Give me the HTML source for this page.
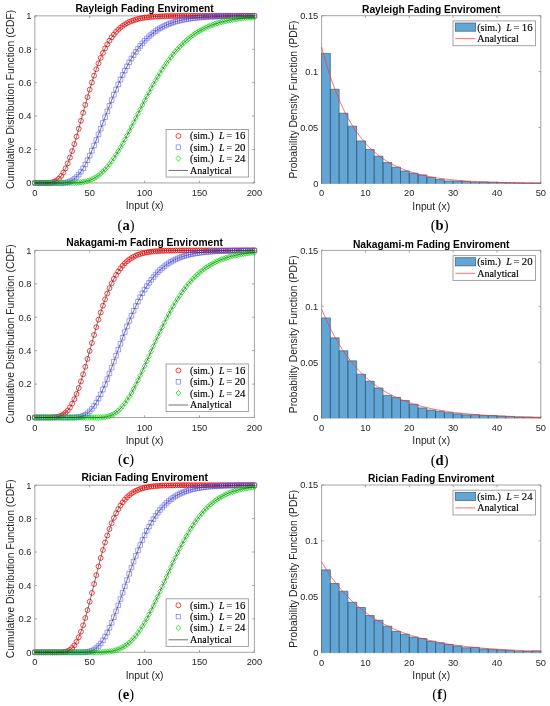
<!DOCTYPE html>
<html><head><meta charset="utf-8"><style>
html,body{margin:0;padding:0;background:#fff;}
body{width:550px;height:706px;overflow:hidden;}
svg{display:block;filter:blur(0.3px);}
</style></head><body>
<svg width="550" height="706" viewBox="0 0 550 706">
<rect width="550" height="706" fill="#fff"/>
<rect x="34.80" y="15.85" width="219.60" height="167.10" fill="#fff"/>
<path d="M34.80,15.85H254.40V182.95H34.80ZM34.80,182.95v-2.2M34.80,15.85v2.2M89.70,182.95v-2.2M89.70,15.85v2.2M144.60,182.95v-2.2M144.60,15.85v2.2M199.50,182.95v-2.2M199.50,15.85v2.2M254.40,182.95v-2.2M254.40,15.85v2.2M34.80,182.95h2.2M254.40,182.95h-2.2M34.80,149.53h2.2M254.40,149.53h-2.2M34.80,116.11h2.2M254.40,116.11h-2.2M34.80,82.69h2.2M254.40,82.69h-2.2M34.80,49.27h2.2M254.40,49.27h-2.2M34.80,15.85h2.2M254.40,15.85h-2.2" fill="none" stroke="#9a9a9a" stroke-width="0.9"/>
<path d="M32.35,182.95a2.45,2.45 0 1,0 4.9,0a2.45,2.45 0 1,0 -4.9,0M34.55,182.95a2.45,2.45 0 1,0 4.9,0a2.45,2.45 0 1,0 -4.9,0M36.74,182.95a2.45,2.45 0 1,0 4.9,0a2.45,2.45 0 1,0 -4.9,0M38.94,182.95a2.45,2.45 0 1,0 4.9,0a2.45,2.45 0 1,0 -4.9,0M41.13,182.95a2.45,2.45 0 1,0 4.9,0a2.45,2.45 0 1,0 -4.9,0M43.33,182.95a2.45,2.45 0 1,0 4.9,0a2.45,2.45 0 1,0 -4.9,0M45.53,182.95a2.45,2.45 0 1,0 4.9,0a2.45,2.45 0 1,0 -4.9,0M47.72,182.71a2.45,2.45 0 1,0 4.9,0a2.45,2.45 0 1,0 -4.9,0M49.92,182.33a2.45,2.45 0 1,0 4.9,0a2.45,2.45 0 1,0 -4.9,0M52.11,181.59a2.45,2.45 0 1,0 4.9,0a2.45,2.45 0 1,0 -4.9,0M54.31,180.37a2.45,2.45 0 1,0 4.9,0a2.45,2.45 0 1,0 -4.9,0M56.51,178.53a2.45,2.45 0 1,0 4.9,0a2.45,2.45 0 1,0 -4.9,0M58.70,175.96a2.45,2.45 0 1,0 4.9,0a2.45,2.45 0 1,0 -4.9,0M60.90,172.58a2.45,2.45 0 1,0 4.9,0a2.45,2.45 0 1,0 -4.9,0M63.09,168.38a2.45,2.45 0 1,0 4.9,0a2.45,2.45 0 1,0 -4.9,0M65.29,163.36a2.45,2.45 0 1,0 4.9,0a2.45,2.45 0 1,0 -4.9,0M67.49,157.57a2.45,2.45 0 1,0 4.9,0a2.45,2.45 0 1,0 -4.9,0M69.68,151.10a2.45,2.45 0 1,0 4.9,0a2.45,2.45 0 1,0 -4.9,0M71.88,144.07a2.45,2.45 0 1,0 4.9,0a2.45,2.45 0 1,0 -4.9,0M74.07,136.59a2.45,2.45 0 1,0 4.9,0a2.45,2.45 0 1,0 -4.9,0M76.27,128.80a2.45,2.45 0 1,0 4.9,0a2.45,2.45 0 1,0 -4.9,0M78.47,120.83a2.45,2.45 0 1,0 4.9,0a2.45,2.45 0 1,0 -4.9,0M80.66,112.82a2.45,2.45 0 1,0 4.9,0a2.45,2.45 0 1,0 -4.9,0M82.86,104.88a2.45,2.45 0 1,0 4.9,0a2.45,2.45 0 1,0 -4.9,0M85.05,97.11a2.45,2.45 0 1,0 4.9,0a2.45,2.45 0 1,0 -4.9,0M87.25,89.61a2.45,2.45 0 1,0 4.9,0a2.45,2.45 0 1,0 -4.9,0M89.45,82.43a2.45,2.45 0 1,0 4.9,0a2.45,2.45 0 1,0 -4.9,0M91.64,75.65a2.45,2.45 0 1,0 4.9,0a2.45,2.45 0 1,0 -4.9,0M93.84,69.29a2.45,2.45 0 1,0 4.9,0a2.45,2.45 0 1,0 -4.9,0M96.03,63.38a2.45,2.45 0 1,0 4.9,0a2.45,2.45 0 1,0 -4.9,0M98.23,57.93a2.45,2.45 0 1,0 4.9,0a2.45,2.45 0 1,0 -4.9,0M100.43,52.95a2.45,2.45 0 1,0 4.9,0a2.45,2.45 0 1,0 -4.9,0M102.62,48.42a2.45,2.45 0 1,0 4.9,0a2.45,2.45 0 1,0 -4.9,0M104.82,44.33a2.45,2.45 0 1,0 4.9,0a2.45,2.45 0 1,0 -4.9,0M107.01,40.65a2.45,2.45 0 1,0 4.9,0a2.45,2.45 0 1,0 -4.9,0M109.21,37.38a2.45,2.45 0 1,0 4.9,0a2.45,2.45 0 1,0 -4.9,0M111.41,34.47a2.45,2.45 0 1,0 4.9,0a2.45,2.45 0 1,0 -4.9,0M113.60,31.90a2.45,2.45 0 1,0 4.9,0a2.45,2.45 0 1,0 -4.9,0M115.80,29.64a2.45,2.45 0 1,0 4.9,0a2.45,2.45 0 1,0 -4.9,0M117.99,27.66a2.45,2.45 0 1,0 4.9,0a2.45,2.45 0 1,0 -4.9,0M120.19,25.94a2.45,2.45 0 1,0 4.9,0a2.45,2.45 0 1,0 -4.9,0M122.39,24.44a2.45,2.45 0 1,0 4.9,0a2.45,2.45 0 1,0 -4.9,0M124.58,23.15a2.45,2.45 0 1,0 4.9,0a2.45,2.45 0 1,0 -4.9,0M126.78,22.03a2.45,2.45 0 1,0 4.9,0a2.45,2.45 0 1,0 -4.9,0M128.97,21.07a2.45,2.45 0 1,0 4.9,0a2.45,2.45 0 1,0 -4.9,0M131.17,20.25a2.45,2.45 0 1,0 4.9,0a2.45,2.45 0 1,0 -4.9,0M133.37,19.55a2.45,2.45 0 1,0 4.9,0a2.45,2.45 0 1,0 -4.9,0M135.56,18.96a2.45,2.45 0 1,0 4.9,0a2.45,2.45 0 1,0 -4.9,0M137.76,18.45a2.45,2.45 0 1,0 4.9,0a2.45,2.45 0 1,0 -4.9,0M139.95,18.02a2.45,2.45 0 1,0 4.9,0a2.45,2.45 0 1,0 -4.9,0M142.15,17.66a2.45,2.45 0 1,0 4.9,0a2.45,2.45 0 1,0 -4.9,0M144.35,17.36a2.45,2.45 0 1,0 4.9,0a2.45,2.45 0 1,0 -4.9,0M146.54,17.10a2.45,2.45 0 1,0 4.9,0a2.45,2.45 0 1,0 -4.9,0M148.74,16.89a2.45,2.45 0 1,0 4.9,0a2.45,2.45 0 1,0 -4.9,0M150.93,16.71a2.45,2.45 0 1,0 4.9,0a2.45,2.45 0 1,0 -4.9,0M153.13,16.56a2.45,2.45 0 1,0 4.9,0a2.45,2.45 0 1,0 -4.9,0M155.33,16.44a2.45,2.45 0 1,0 4.9,0a2.45,2.45 0 1,0 -4.9,0M157.52,16.33a2.45,2.45 0 1,0 4.9,0a2.45,2.45 0 1,0 -4.9,0M159.72,16.25a2.45,2.45 0 1,0 4.9,0a2.45,2.45 0 1,0 -4.9,0M161.91,16.18a2.45,2.45 0 1,0 4.9,0a2.45,2.45 0 1,0 -4.9,0M164.11,16.12a2.45,2.45 0 1,0 4.9,0a2.45,2.45 0 1,0 -4.9,0M166.31,16.07a2.45,2.45 0 1,0 4.9,0a2.45,2.45 0 1,0 -4.9,0M168.50,16.03a2.45,2.45 0 1,0 4.9,0a2.45,2.45 0 1,0 -4.9,0M170.70,16.00a2.45,2.45 0 1,0 4.9,0a2.45,2.45 0 1,0 -4.9,0M172.89,15.98a2.45,2.45 0 1,0 4.9,0a2.45,2.45 0 1,0 -4.9,0M175.09,15.95a2.45,2.45 0 1,0 4.9,0a2.45,2.45 0 1,0 -4.9,0M177.29,15.85a2.45,2.45 0 1,0 4.9,0a2.45,2.45 0 1,0 -4.9,0M179.48,15.85a2.45,2.45 0 1,0 4.9,0a2.45,2.45 0 1,0 -4.9,0M181.68,15.85a2.45,2.45 0 1,0 4.9,0a2.45,2.45 0 1,0 -4.9,0M183.87,15.85a2.45,2.45 0 1,0 4.9,0a2.45,2.45 0 1,0 -4.9,0M186.07,15.85a2.45,2.45 0 1,0 4.9,0a2.45,2.45 0 1,0 -4.9,0M188.27,15.85a2.45,2.45 0 1,0 4.9,0a2.45,2.45 0 1,0 -4.9,0M190.46,15.85a2.45,2.45 0 1,0 4.9,0a2.45,2.45 0 1,0 -4.9,0M192.66,15.85a2.45,2.45 0 1,0 4.9,0a2.45,2.45 0 1,0 -4.9,0M194.85,15.85a2.45,2.45 0 1,0 4.9,0a2.45,2.45 0 1,0 -4.9,0M197.05,15.85a2.45,2.45 0 1,0 4.9,0a2.45,2.45 0 1,0 -4.9,0M199.25,15.85a2.45,2.45 0 1,0 4.9,0a2.45,2.45 0 1,0 -4.9,0M201.44,15.85a2.45,2.45 0 1,0 4.9,0a2.45,2.45 0 1,0 -4.9,0M203.64,15.85a2.45,2.45 0 1,0 4.9,0a2.45,2.45 0 1,0 -4.9,0M205.83,15.85a2.45,2.45 0 1,0 4.9,0a2.45,2.45 0 1,0 -4.9,0M208.03,15.85a2.45,2.45 0 1,0 4.9,0a2.45,2.45 0 1,0 -4.9,0M210.23,15.85a2.45,2.45 0 1,0 4.9,0a2.45,2.45 0 1,0 -4.9,0M212.42,15.85a2.45,2.45 0 1,0 4.9,0a2.45,2.45 0 1,0 -4.9,0M214.62,15.85a2.45,2.45 0 1,0 4.9,0a2.45,2.45 0 1,0 -4.9,0M216.81,15.85a2.45,2.45 0 1,0 4.9,0a2.45,2.45 0 1,0 -4.9,0M219.01,15.85a2.45,2.45 0 1,0 4.9,0a2.45,2.45 0 1,0 -4.9,0M221.21,15.85a2.45,2.45 0 1,0 4.9,0a2.45,2.45 0 1,0 -4.9,0M223.40,15.85a2.45,2.45 0 1,0 4.9,0a2.45,2.45 0 1,0 -4.9,0M225.60,15.85a2.45,2.45 0 1,0 4.9,0a2.45,2.45 0 1,0 -4.9,0M227.79,15.85a2.45,2.45 0 1,0 4.9,0a2.45,2.45 0 1,0 -4.9,0M229.99,15.85a2.45,2.45 0 1,0 4.9,0a2.45,2.45 0 1,0 -4.9,0M232.19,15.85a2.45,2.45 0 1,0 4.9,0a2.45,2.45 0 1,0 -4.9,0M234.38,15.85a2.45,2.45 0 1,0 4.9,0a2.45,2.45 0 1,0 -4.9,0M236.58,15.85a2.45,2.45 0 1,0 4.9,0a2.45,2.45 0 1,0 -4.9,0M238.77,15.85a2.45,2.45 0 1,0 4.9,0a2.45,2.45 0 1,0 -4.9,0M240.97,15.85a2.45,2.45 0 1,0 4.9,0a2.45,2.45 0 1,0 -4.9,0M243.17,15.85a2.45,2.45 0 1,0 4.9,0a2.45,2.45 0 1,0 -4.9,0M245.36,15.85a2.45,2.45 0 1,0 4.9,0a2.45,2.45 0 1,0 -4.9,0M247.56,15.85a2.45,2.45 0 1,0 4.9,0a2.45,2.45 0 1,0 -4.9,0M249.75,15.85a2.45,2.45 0 1,0 4.9,0a2.45,2.45 0 1,0 -4.9,0M251.95,15.85a2.45,2.45 0 1,0 4.9,0a2.45,2.45 0 1,0 -4.9,0" fill="none" stroke="#ff0000" stroke-width="0.75"/>
<path d="M32.50,180.65h4.6v4.6h-4.6zM34.70,180.65h4.6v4.6h-4.6zM36.89,180.65h4.6v4.6h-4.6zM39.09,180.65h4.6v4.6h-4.6zM41.28,180.65h4.6v4.6h-4.6zM43.48,180.65h4.6v4.6h-4.6zM45.68,180.65h4.6v4.6h-4.6zM47.87,180.65h4.6v4.6h-4.6zM50.07,180.65h4.6v4.6h-4.6zM52.26,180.65h4.6v4.6h-4.6zM54.46,180.65h4.6v4.6h-4.6zM56.66,180.65h4.6v4.6h-4.6zM58.85,180.65h4.6v4.6h-4.6zM61.05,180.53h4.6v4.6h-4.6zM63.24,180.32h4.6v4.6h-4.6zM65.44,179.90h4.6v4.6h-4.6zM67.64,179.19h4.6v4.6h-4.6zM69.83,178.12h4.6v4.6h-4.6zM72.03,176.64h4.6v4.6h-4.6zM74.22,174.71h4.6v4.6h-4.6zM76.42,172.30h4.6v4.6h-4.6zM78.62,169.41h4.6v4.6h-4.6zM80.81,166.04h4.6v4.6h-4.6zM83.01,162.21h4.6v4.6h-4.6zM85.20,157.97h4.6v4.6h-4.6zM87.40,153.35h4.6v4.6h-4.6zM89.60,148.40h4.6v4.6h-4.6zM91.79,143.18h4.6v4.6h-4.6zM93.99,137.74h4.6v4.6h-4.6zM96.18,132.13h4.6v4.6h-4.6zM98.38,126.42h4.6v4.6h-4.6zM100.58,120.65h4.6v4.6h-4.6zM102.77,114.87h4.6v4.6h-4.6zM104.97,109.13h4.6v4.6h-4.6zM107.16,103.46h4.6v4.6h-4.6zM109.36,97.90h4.6v4.6h-4.6zM111.56,92.48h4.6v4.6h-4.6zM113.75,87.23h4.6v4.6h-4.6zM115.95,82.16h4.6v4.6h-4.6zM118.14,77.30h4.6v4.6h-4.6zM120.34,72.64h4.6v4.6h-4.6zM122.54,68.22h4.6v4.6h-4.6zM124.73,64.02h4.6v4.6h-4.6zM126.93,60.05h4.6v4.6h-4.6zM129.12,56.31h4.6v4.6h-4.6zM131.32,52.81h4.6v4.6h-4.6zM133.52,49.52h4.6v4.6h-4.6zM135.71,46.46h4.6v4.6h-4.6zM137.91,43.61h4.6v4.6h-4.6zM140.10,40.96h4.6v4.6h-4.6zM142.30,38.51h4.6v4.6h-4.6zM144.50,36.24h4.6v4.6h-4.6zM146.69,34.16h4.6v4.6h-4.6zM148.89,32.23h4.6v4.6h-4.6zM151.08,30.47h4.6v4.6h-4.6zM153.28,28.85h4.6v4.6h-4.6zM155.48,27.37h4.6v4.6h-4.6zM157.67,26.02h4.6v4.6h-4.6zM159.87,24.79h4.6v4.6h-4.6zM162.06,23.67h4.6v4.6h-4.6zM164.26,22.65h4.6v4.6h-4.6zM166.46,21.72h4.6v4.6h-4.6zM168.65,20.88h4.6v4.6h-4.6zM170.85,20.13h4.6v4.6h-4.6zM173.04,19.44h4.6v4.6h-4.6zM175.24,18.82h4.6v4.6h-4.6zM177.44,18.26h4.6v4.6h-4.6zM179.63,17.76h4.6v4.6h-4.6zM181.83,17.31h4.6v4.6h-4.6zM184.02,16.90h4.6v4.6h-4.6zM186.22,16.54h4.6v4.6h-4.6zM188.42,16.21h4.6v4.6h-4.6zM190.61,15.92h4.6v4.6h-4.6zM192.81,15.65h4.6v4.6h-4.6zM195.00,15.42h4.6v4.6h-4.6zM197.20,15.21h4.6v4.6h-4.6zM199.40,15.02h4.6v4.6h-4.6zM201.59,14.86h4.6v4.6h-4.6zM203.79,14.71h4.6v4.6h-4.6zM205.98,14.57h4.6v4.6h-4.6zM208.18,14.46h4.6v4.6h-4.6zM210.38,14.35h4.6v4.6h-4.6zM212.57,14.26h4.6v4.6h-4.6zM214.77,14.18h4.6v4.6h-4.6zM216.96,14.10h4.6v4.6h-4.6zM219.16,14.04h4.6v4.6h-4.6zM221.36,13.98h4.6v4.6h-4.6zM223.55,13.93h4.6v4.6h-4.6zM225.75,13.88h4.6v4.6h-4.6zM227.94,13.85h4.6v4.6h-4.6zM230.14,13.81h4.6v4.6h-4.6zM232.34,13.78h4.6v4.6h-4.6zM234.53,13.75h4.6v4.6h-4.6zM236.73,13.73h4.6v4.6h-4.6zM238.92,13.71h4.6v4.6h-4.6zM241.12,13.69h4.6v4.6h-4.6zM243.32,13.68h4.6v4.6h-4.6zM245.51,13.66h4.6v4.6h-4.6zM247.71,13.65h4.6v4.6h-4.6zM249.90,13.55h4.6v4.6h-4.6zM252.10,13.55h4.6v4.6h-4.6z" fill="none" stroke="#5050ff" stroke-width="0.55"/>
<path d="M34.80,180.15l2.4,2.8l-2.4,2.8l-2.4,-2.8zM37.00,180.15l2.4,2.8l-2.4,2.8l-2.4,-2.8zM39.19,180.15l2.4,2.8l-2.4,2.8l-2.4,-2.8zM41.39,180.15l2.4,2.8l-2.4,2.8l-2.4,-2.8zM43.58,180.15l2.4,2.8l-2.4,2.8l-2.4,-2.8zM45.78,180.15l2.4,2.8l-2.4,2.8l-2.4,-2.8zM47.98,180.15l2.4,2.8l-2.4,2.8l-2.4,-2.8zM50.17,180.15l2.4,2.8l-2.4,2.8l-2.4,-2.8zM52.37,180.15l2.4,2.8l-2.4,2.8l-2.4,-2.8zM54.56,180.15l2.4,2.8l-2.4,2.8l-2.4,-2.8zM56.76,180.15l2.4,2.8l-2.4,2.8l-2.4,-2.8zM58.96,180.15l2.4,2.8l-2.4,2.8l-2.4,-2.8zM61.15,180.15l2.4,2.8l-2.4,2.8l-2.4,-2.8zM63.35,180.15l2.4,2.8l-2.4,2.8l-2.4,-2.8zM65.54,180.15l2.4,2.8l-2.4,2.8l-2.4,-2.8zM67.74,180.15l2.4,2.8l-2.4,2.8l-2.4,-2.8zM69.94,180.15l2.4,2.8l-2.4,2.8l-2.4,-2.8zM72.13,180.15l2.4,2.8l-2.4,2.8l-2.4,-2.8zM74.33,180.01l2.4,2.8l-2.4,2.8l-2.4,-2.8zM76.52,179.92l2.4,2.8l-2.4,2.8l-2.4,-2.8zM78.72,179.76l2.4,2.8l-2.4,2.8l-2.4,-2.8zM80.92,179.53l2.4,2.8l-2.4,2.8l-2.4,-2.8zM83.11,179.20l2.4,2.8l-2.4,2.8l-2.4,-2.8zM85.31,178.77l2.4,2.8l-2.4,2.8l-2.4,-2.8zM87.50,178.19l2.4,2.8l-2.4,2.8l-2.4,-2.8zM89.70,177.47l2.4,2.8l-2.4,2.8l-2.4,-2.8zM91.90,176.57l2.4,2.8l-2.4,2.8l-2.4,-2.8zM94.09,175.47l2.4,2.8l-2.4,2.8l-2.4,-2.8zM96.29,174.16l2.4,2.8l-2.4,2.8l-2.4,-2.8zM98.48,172.64l2.4,2.8l-2.4,2.8l-2.4,-2.8zM100.68,170.88l2.4,2.8l-2.4,2.8l-2.4,-2.8zM102.88,168.88l2.4,2.8l-2.4,2.8l-2.4,-2.8zM105.07,166.64l2.4,2.8l-2.4,2.8l-2.4,-2.8zM107.27,164.16l2.4,2.8l-2.4,2.8l-2.4,-2.8zM109.46,161.44l2.4,2.8l-2.4,2.8l-2.4,-2.8zM111.66,158.49l2.4,2.8l-2.4,2.8l-2.4,-2.8zM113.86,155.32l2.4,2.8l-2.4,2.8l-2.4,-2.8zM116.05,151.95l2.4,2.8l-2.4,2.8l-2.4,-2.8zM118.25,148.38l2.4,2.8l-2.4,2.8l-2.4,-2.8zM120.44,144.64l2.4,2.8l-2.4,2.8l-2.4,-2.8zM122.64,140.75l2.4,2.8l-2.4,2.8l-2.4,-2.8zM124.84,136.72l2.4,2.8l-2.4,2.8l-2.4,-2.8zM127.03,132.58l2.4,2.8l-2.4,2.8l-2.4,-2.8zM129.23,128.35l2.4,2.8l-2.4,2.8l-2.4,-2.8zM131.42,124.05l2.4,2.8l-2.4,2.8l-2.4,-2.8zM133.62,119.70l2.4,2.8l-2.4,2.8l-2.4,-2.8zM135.82,115.32l2.4,2.8l-2.4,2.8l-2.4,-2.8zM138.01,110.94l2.4,2.8l-2.4,2.8l-2.4,-2.8zM140.21,106.57l2.4,2.8l-2.4,2.8l-2.4,-2.8zM142.40,102.23l2.4,2.8l-2.4,2.8l-2.4,-2.8zM144.60,97.94l2.4,2.8l-2.4,2.8l-2.4,-2.8zM146.80,93.71l2.4,2.8l-2.4,2.8l-2.4,-2.8zM148.99,89.55l2.4,2.8l-2.4,2.8l-2.4,-2.8zM151.19,85.49l2.4,2.8l-2.4,2.8l-2.4,-2.8zM153.38,81.53l2.4,2.8l-2.4,2.8l-2.4,-2.8zM155.58,77.67l2.4,2.8l-2.4,2.8l-2.4,-2.8zM157.78,73.94l2.4,2.8l-2.4,2.8l-2.4,-2.8zM159.97,70.33l2.4,2.8l-2.4,2.8l-2.4,-2.8zM162.17,66.85l2.4,2.8l-2.4,2.8l-2.4,-2.8zM164.36,63.51l2.4,2.8l-2.4,2.8l-2.4,-2.8zM166.56,60.31l2.4,2.8l-2.4,2.8l-2.4,-2.8zM168.76,57.24l2.4,2.8l-2.4,2.8l-2.4,-2.8zM170.95,54.32l2.4,2.8l-2.4,2.8l-2.4,-2.8zM173.15,51.53l2.4,2.8l-2.4,2.8l-2.4,-2.8zM175.34,48.89l2.4,2.8l-2.4,2.8l-2.4,-2.8zM177.54,46.38l2.4,2.8l-2.4,2.8l-2.4,-2.8zM179.74,44.01l2.4,2.8l-2.4,2.8l-2.4,-2.8zM181.93,41.77l2.4,2.8l-2.4,2.8l-2.4,-2.8zM184.13,39.66l2.4,2.8l-2.4,2.8l-2.4,-2.8zM186.32,37.68l2.4,2.8l-2.4,2.8l-2.4,-2.8zM188.52,35.81l2.4,2.8l-2.4,2.8l-2.4,-2.8zM190.72,34.07l2.4,2.8l-2.4,2.8l-2.4,-2.8zM192.91,32.43l2.4,2.8l-2.4,2.8l-2.4,-2.8zM195.11,30.91l2.4,2.8l-2.4,2.8l-2.4,-2.8zM197.30,29.48l2.4,2.8l-2.4,2.8l-2.4,-2.8zM199.50,28.16l2.4,2.8l-2.4,2.8l-2.4,-2.8zM201.70,26.92l2.4,2.8l-2.4,2.8l-2.4,-2.8zM203.89,25.78l2.4,2.8l-2.4,2.8l-2.4,-2.8zM206.09,24.71l2.4,2.8l-2.4,2.8l-2.4,-2.8zM208.28,23.73l2.4,2.8l-2.4,2.8l-2.4,-2.8zM210.48,22.82l2.4,2.8l-2.4,2.8l-2.4,-2.8zM212.68,21.98l2.4,2.8l-2.4,2.8l-2.4,-2.8zM214.87,21.20l2.4,2.8l-2.4,2.8l-2.4,-2.8zM217.07,20.49l2.4,2.8l-2.4,2.8l-2.4,-2.8zM219.26,19.83l2.4,2.8l-2.4,2.8l-2.4,-2.8zM221.46,19.22l2.4,2.8l-2.4,2.8l-2.4,-2.8zM223.66,18.67l2.4,2.8l-2.4,2.8l-2.4,-2.8zM225.85,18.16l2.4,2.8l-2.4,2.8l-2.4,-2.8zM228.05,17.69l2.4,2.8l-2.4,2.8l-2.4,-2.8zM230.24,17.26l2.4,2.8l-2.4,2.8l-2.4,-2.8zM232.44,16.87l2.4,2.8l-2.4,2.8l-2.4,-2.8zM234.64,16.51l2.4,2.8l-2.4,2.8l-2.4,-2.8zM236.83,16.19l2.4,2.8l-2.4,2.8l-2.4,-2.8zM239.03,15.89l2.4,2.8l-2.4,2.8l-2.4,-2.8zM241.22,15.62l2.4,2.8l-2.4,2.8l-2.4,-2.8zM243.42,15.37l2.4,2.8l-2.4,2.8l-2.4,-2.8zM245.62,15.15l2.4,2.8l-2.4,2.8l-2.4,-2.8zM247.81,14.94l2.4,2.8l-2.4,2.8l-2.4,-2.8zM250.01,14.76l2.4,2.8l-2.4,2.8l-2.4,-2.8zM252.20,14.59l2.4,2.8l-2.4,2.8l-2.4,-2.8zM254.40,14.44l2.4,2.8l-2.4,2.8l-2.4,-2.8z" fill="none" stroke="#00e000" stroke-width="0.75"/>
<path d="M34.80,182.95L35.35,182.95L35.90,182.95L36.45,182.95L37.00,182.95L37.54,182.95L38.09,182.95L38.64,182.95L39.19,182.95L39.74,182.95L40.29,182.95L40.84,182.95L41.39,182.95L41.94,182.95L42.49,182.95L43.03,182.95L43.58,182.95L44.13,182.95L44.68,182.95L45.23,182.95L45.78,182.95L46.33,182.95L46.88,182.95L47.43,182.95L47.98,182.95L48.52,182.85L49.07,182.81L49.62,182.77L50.17,182.71L50.72,182.64L51.27,182.55L51.82,182.45L52.37,182.33L52.92,182.18L53.47,182.01L54.02,181.82L54.56,181.59L55.11,181.34L55.66,181.05L56.21,180.73L56.76,180.37L57.31,179.97L57.86,179.53L58.41,179.05L58.96,178.53L59.50,177.96L60.05,177.34L60.60,176.67L61.15,175.96L61.70,175.19L62.25,174.37L62.80,173.50L63.35,172.58L63.90,171.61L64.45,170.58L65.00,169.51L65.54,168.38L66.09,167.20L66.64,165.97L67.19,164.69L67.74,163.36L68.29,161.98L68.84,160.56L69.39,159.08L69.94,157.57L70.48,156.01L71.03,154.42L71.58,152.78L72.13,151.10L72.68,149.39L73.23,147.65L73.78,145.87L74.33,144.07L74.88,142.23L75.43,140.37L75.97,138.49L76.52,136.59L77.07,134.66L77.62,132.72L78.17,130.77L78.72,128.80L79.27,126.82L79.82,124.83L80.37,122.83L80.92,120.83L81.47,118.83L82.01,116.82L82.56,114.82L83.11,112.82L83.66,110.82L84.21,108.83L84.76,106.85L85.31,104.88L85.86,102.92L86.41,100.97L86.95,99.03L87.50,97.11L88.05,95.21L88.60,93.32L89.15,91.45L89.70,89.61L90.25,87.78L90.80,85.97L91.35,84.19L91.90,82.43L92.45,80.70L92.99,78.99L93.54,77.31L94.09,75.65L94.64,74.02L95.19,72.41L95.74,70.84L96.29,69.29L96.84,67.77L97.39,66.28L97.94,64.81L98.48,63.38L99.03,61.97L99.58,60.60L100.13,59.25L100.68,57.93L101.23,56.64L101.78,55.38L102.33,54.15L102.88,52.95L103.42,51.77L103.97,50.62L104.52,49.51L105.07,48.42L105.62,47.35L106.17,46.32L106.72,45.31L107.27,44.33L107.82,43.37L108.37,42.44L108.92,41.53L109.46,40.65L110.01,39.80L110.56,38.97L111.11,38.16L111.66,37.38L112.21,36.62L112.76,35.88L113.31,35.16L113.86,34.47L114.41,33.80L114.95,33.14L115.50,32.51L116.05,31.90L116.60,31.31L117.15,30.73L117.70,30.18L118.25,29.64L118.80,29.12L119.35,28.62L119.90,28.13L120.44,27.66L120.99,27.21L121.54,26.77L122.09,26.35L122.64,25.94L123.19,25.54L123.74,25.16L124.29,24.80L124.84,24.44L125.39,24.10L125.93,23.77L126.48,23.45L127.03,23.15L127.58,22.85L128.13,22.57L128.68,22.30L129.23,22.03L129.78,21.78L130.33,21.53L130.88,21.30L131.42,21.07L131.97,20.86L132.52,20.65L133.07,20.45L133.62,20.25L134.17,20.07L134.72,19.89L135.27,19.72L135.82,19.55L136.37,19.40L136.91,19.24L137.46,19.10L138.01,18.96L138.56,18.82L139.11,18.69L139.66,18.57L140.21,18.45L140.76,18.34L141.31,18.23L141.86,18.13L142.40,18.02L142.95,17.93L143.50,17.84L144.05,17.75L144.60,17.66L145.15,17.58L145.70,17.50L146.25,17.43L146.80,17.36L147.34,17.29L147.89,17.23L148.44,17.16L148.99,17.10L149.54,17.05L150.09,16.99L150.64,16.94L151.19,16.89L151.74,16.84L152.29,16.80L152.84,16.75L153.38,16.71L153.93,16.67L154.48,16.63L155.03,16.60L155.58,16.56L156.13,16.53L156.68,16.50L157.23,16.47L157.78,16.44L158.32,16.41L158.87,16.38L159.42,16.36L159.97,16.33L160.52,16.31L161.07,16.29L161.62,16.27L162.17,16.25L162.72,16.23L163.27,16.21L163.81,16.19L164.36,16.18L164.91,16.16L165.46,16.15L166.01,16.13L166.56,16.12L167.11,16.11L167.66,16.09L168.21,16.08L168.76,16.07L169.31,16.06L169.85,16.05L170.40,16.04L170.95,16.03L171.50,16.02L172.05,16.01L172.60,16.01L173.15,16.00L173.70,15.99L174.25,15.99L174.80,15.98L175.34,15.98L175.89,15.97L176.44,15.96L176.99,15.96L177.54,15.95L178.09,15.95L178.64,15.94L179.19,15.85L179.74,15.85L180.29,15.85L180.83,15.85L181.38,15.85L181.93,15.85L182.48,15.85L183.03,15.85L183.58,15.85L184.13,15.85L184.68,15.85L185.23,15.85L185.78,15.85L186.32,15.85L186.87,15.85L187.42,15.85L187.97,15.85L188.52,15.85L189.07,15.85L189.62,15.85L190.17,15.85L190.72,15.85L191.27,15.85L191.81,15.85L192.36,15.85L192.91,15.85L193.46,15.85L194.01,15.85L194.56,15.85L195.11,15.85L195.66,15.85L196.21,15.85L196.75,15.85L197.30,15.85L197.85,15.85L198.40,15.85L198.95,15.85L199.50,15.85L200.05,15.85L200.60,15.85L201.15,15.85L201.70,15.85L202.25,15.85L202.79,15.85L203.34,15.85L203.89,15.85L204.44,15.85L204.99,15.85L205.54,15.85L206.09,15.85L206.64,15.85L207.19,15.85L207.74,15.85L208.28,15.85L208.83,15.85L209.38,15.85L209.93,15.85L210.48,15.85L211.03,15.85L211.58,15.85L212.13,15.85L212.68,15.85L213.23,15.85L213.77,15.85L214.32,15.85L214.87,15.85L215.42,15.85L215.97,15.85L216.52,15.85L217.07,15.85L217.62,15.85L218.17,15.85L218.72,15.85L219.26,15.85L219.81,15.85L220.36,15.85L220.91,15.85L221.46,15.85L222.01,15.85L222.56,15.85L223.11,15.85L223.66,15.85L224.21,15.85L224.75,15.85L225.30,15.85L225.85,15.85L226.40,15.85L226.95,15.85L227.50,15.85L228.05,15.85L228.60,15.85L229.15,15.85L229.69,15.85L230.24,15.85L230.79,15.85L231.34,15.85L231.89,15.85L232.44,15.85L232.99,15.85L233.54,15.85L234.09,15.85L234.64,15.85L235.19,15.85L235.73,15.85L236.28,15.85L236.83,15.85L237.38,15.85L237.93,15.85L238.48,15.85L239.03,15.85L239.58,15.85L240.13,15.85L240.68,15.85L241.22,15.85L241.77,15.85L242.32,15.85L242.87,15.85L243.42,15.85L243.97,15.85L244.52,15.85L245.07,15.85L245.62,15.85L246.17,15.85L246.71,15.85L247.26,15.85L247.81,15.85L248.36,15.85L248.91,15.85L249.46,15.85L250.01,15.85L250.56,15.85L251.11,15.85L251.66,15.85L252.20,15.85L252.75,15.85L253.30,15.85L253.85,15.85L254.40,15.85" fill="none" stroke="#333" stroke-width="0.7"/>
<path d="M34.80,182.95L35.35,182.95L35.90,182.95L36.45,182.95L37.00,182.95L37.54,182.95L38.09,182.95L38.64,182.95L39.19,182.95L39.74,182.95L40.29,182.95L40.84,182.95L41.39,182.95L41.94,182.95L42.49,182.95L43.03,182.95L43.58,182.95L44.13,182.95L44.68,182.95L45.23,182.95L45.78,182.95L46.33,182.95L46.88,182.95L47.43,182.95L47.98,182.95L48.52,182.95L49.07,182.95L49.62,182.95L50.17,182.95L50.72,182.95L51.27,182.95L51.82,182.95L52.37,182.95L52.92,182.95L53.47,182.95L54.02,182.95L54.56,182.95L55.11,182.95L55.66,182.95L56.21,182.95L56.76,182.95L57.31,182.95L57.86,182.95L58.41,182.95L58.96,182.95L59.50,182.95L60.05,182.95L60.60,182.95L61.15,182.95L61.70,182.95L62.25,182.95L62.80,182.95L63.35,182.83L63.90,182.80L64.45,182.75L65.00,182.69L65.54,182.62L66.09,182.54L66.64,182.44L67.19,182.33L67.74,182.20L68.29,182.05L68.84,181.88L69.39,181.69L69.94,181.49L70.48,181.26L71.03,181.00L71.58,180.72L72.13,180.42L72.68,180.09L73.23,179.74L73.78,179.36L74.33,178.94L74.88,178.51L75.43,178.04L75.97,177.54L76.52,177.01L77.07,176.46L77.62,175.87L78.17,175.25L78.72,174.60L79.27,173.93L79.82,173.22L80.37,172.48L80.92,171.71L81.47,170.91L82.01,170.08L82.56,169.22L83.11,168.34L83.66,167.42L84.21,166.48L84.76,165.51L85.31,164.51L85.86,163.49L86.41,162.44L86.95,161.37L87.50,160.27L88.05,159.15L88.60,158.00L89.15,156.84L89.70,155.65L90.25,154.44L90.80,153.21L91.35,151.96L91.90,150.70L92.45,149.42L92.99,148.12L93.54,146.80L94.09,145.48L94.64,144.13L95.19,142.78L95.74,141.41L96.29,140.04L96.84,138.65L97.39,137.25L97.94,135.84L98.48,134.43L99.03,133.01L99.58,131.59L100.13,130.15L100.68,128.72L101.23,127.28L101.78,125.84L102.33,124.39L102.88,122.95L103.42,121.50L103.97,120.06L104.52,118.61L105.07,117.17L105.62,115.73L106.17,114.29L106.72,112.86L107.27,111.43L107.82,110.00L108.37,108.58L108.92,107.17L109.46,105.76L110.01,104.36L110.56,102.96L111.11,101.58L111.66,100.20L112.21,98.83L112.76,97.47L113.31,96.12L113.86,94.78L114.41,93.45L114.95,92.13L115.50,90.83L116.05,89.53L116.60,88.24L117.15,86.97L117.70,85.71L118.25,84.46L118.80,83.23L119.35,82.00L119.90,80.79L120.44,79.60L120.99,78.41L121.54,77.24L122.09,76.09L122.64,74.94L123.19,73.82L123.74,72.70L124.29,71.60L124.84,70.52L125.39,69.45L125.93,68.39L126.48,67.35L127.03,66.32L127.58,65.30L128.13,64.31L128.68,63.32L129.23,62.35L129.78,61.40L130.33,60.45L130.88,59.53L131.42,58.61L131.97,57.72L132.52,56.83L133.07,55.96L133.62,55.11L134.17,54.27L134.72,53.44L135.27,52.62L135.82,51.82L136.37,51.04L136.91,50.27L137.46,49.51L138.01,48.76L138.56,48.03L139.11,47.31L139.66,46.60L140.21,45.91L140.76,45.23L141.31,44.56L141.86,43.90L142.40,43.26L142.95,42.63L143.50,42.01L144.05,41.41L144.60,40.81L145.15,40.23L145.70,39.65L146.25,39.09L146.80,38.54L147.34,38.01L147.89,37.48L148.44,36.96L148.99,36.46L149.54,35.96L150.09,35.47L150.64,35.00L151.19,34.53L151.74,34.08L152.29,33.63L152.84,33.20L153.38,32.77L153.93,32.35L154.48,31.94L155.03,31.54L155.58,31.15L156.13,30.77L156.68,30.40L157.23,30.03L157.78,29.67L158.32,29.32L158.87,28.98L159.42,28.65L159.97,28.32L160.52,28.00L161.07,27.69L161.62,27.39L162.17,27.09L162.72,26.80L163.27,26.51L163.81,26.24L164.36,25.97L164.91,25.70L165.46,25.45L166.01,25.19L166.56,24.95L167.11,24.71L167.66,24.47L168.21,24.25L168.76,24.02L169.31,23.81L169.85,23.59L170.40,23.39L170.95,23.18L171.50,22.99L172.05,22.80L172.60,22.61L173.15,22.43L173.70,22.25L174.25,22.07L174.80,21.90L175.34,21.74L175.89,21.58L176.44,21.42L176.99,21.27L177.54,21.12L178.09,20.98L178.64,20.83L179.19,20.70L179.74,20.56L180.29,20.43L180.83,20.30L181.38,20.18L181.93,20.06L182.48,19.94L183.03,19.83L183.58,19.72L184.13,19.61L184.68,19.50L185.23,19.40L185.78,19.30L186.32,19.20L186.87,19.11L187.42,19.01L187.97,18.92L188.52,18.84L189.07,18.75L189.62,18.67L190.17,18.59L190.72,18.51L191.27,18.43L191.81,18.36L192.36,18.29L192.91,18.22L193.46,18.15L194.01,18.08L194.56,18.02L195.11,17.95L195.66,17.89L196.21,17.83L196.75,17.77L197.30,17.72L197.85,17.66L198.40,17.61L198.95,17.56L199.50,17.51L200.05,17.46L200.60,17.41L201.15,17.37L201.70,17.32L202.25,17.28L202.79,17.24L203.34,17.20L203.89,17.16L204.44,17.12L204.99,17.08L205.54,17.04L206.09,17.01L206.64,16.97L207.19,16.94L207.74,16.91L208.28,16.87L208.83,16.84L209.38,16.81L209.93,16.78L210.48,16.76L211.03,16.73L211.58,16.70L212.13,16.68L212.68,16.65L213.23,16.63L213.77,16.60L214.32,16.58L214.87,16.56L215.42,16.54L215.97,16.52L216.52,16.50L217.07,16.48L217.62,16.46L218.17,16.44L218.72,16.42L219.26,16.40L219.81,16.39L220.36,16.37L220.91,16.35L221.46,16.34L222.01,16.32L222.56,16.31L223.11,16.30L223.66,16.28L224.21,16.27L224.75,16.26L225.30,16.24L225.85,16.23L226.40,16.22L226.95,16.21L227.50,16.20L228.05,16.18L228.60,16.17L229.15,16.17L229.69,16.16L230.24,16.15L230.79,16.14L231.34,16.13L231.89,16.12L232.44,16.11L232.99,16.10L233.54,16.09L234.09,16.09L234.64,16.08L235.19,16.07L235.73,16.07L236.28,16.06L236.83,16.05L237.38,16.05L237.93,16.04L238.48,16.03L239.03,16.03L239.58,16.02L240.13,16.02L240.68,16.01L241.22,16.01L241.77,16.00L242.32,16.00L242.87,16.00L243.42,15.99L243.97,15.99L244.52,15.98L245.07,15.98L245.62,15.98L246.17,15.97L246.71,15.97L247.26,15.96L247.81,15.96L248.36,15.96L248.91,15.95L249.46,15.95L250.01,15.95L250.56,15.94L251.11,15.94L251.66,15.85L252.20,15.85L252.75,15.85L253.30,15.85L253.85,15.85L254.40,15.85" fill="none" stroke="#333" stroke-width="0.7"/>
<path d="M34.80,182.95L35.35,182.95L35.90,182.95L36.45,182.95L37.00,182.95L37.54,182.95L38.09,182.95L38.64,182.95L39.19,182.95L39.74,182.95L40.29,182.95L40.84,182.95L41.39,182.95L41.94,182.95L42.49,182.95L43.03,182.95L43.58,182.95L44.13,182.95L44.68,182.95L45.23,182.95L45.78,182.95L46.33,182.95L46.88,182.95L47.43,182.95L47.98,182.95L48.52,182.95L49.07,182.95L49.62,182.95L50.17,182.95L50.72,182.95L51.27,182.95L51.82,182.95L52.37,182.95L52.92,182.95L53.47,182.95L54.02,182.95L54.56,182.95L55.11,182.95L55.66,182.95L56.21,182.95L56.76,182.95L57.31,182.95L57.86,182.95L58.41,182.95L58.96,182.95L59.50,182.95L60.05,182.95L60.60,182.95L61.15,182.95L61.70,182.95L62.25,182.95L62.80,182.95L63.35,182.95L63.90,182.95L64.45,182.95L65.00,182.95L65.54,182.95L66.09,182.95L66.64,182.95L67.19,182.95L67.74,182.95L68.29,182.95L68.84,182.95L69.39,182.95L69.94,182.95L70.48,182.95L71.03,182.95L71.58,182.95L72.13,182.95L72.68,182.95L73.23,182.85L73.78,182.83L74.33,182.81L74.88,182.80L75.43,182.77L75.97,182.74L76.52,182.72L77.07,182.68L77.62,182.64L78.17,182.60L78.72,182.56L79.27,182.51L79.82,182.45L80.37,182.39L80.92,182.33L81.47,182.26L82.01,182.18L82.56,182.09L83.11,182.00L83.66,181.91L84.21,181.80L84.76,181.69L85.31,181.57L85.86,181.44L86.41,181.30L86.95,181.15L87.50,180.99L88.05,180.83L88.60,180.65L89.15,180.47L89.70,180.27L90.25,180.06L90.80,179.84L91.35,179.61L91.90,179.37L92.45,179.11L92.99,178.84L93.54,178.56L94.09,178.27L94.64,177.96L95.19,177.64L95.74,177.31L96.29,176.96L96.84,176.60L97.39,176.23L97.94,175.84L98.48,175.44L99.03,175.02L99.58,174.59L100.13,174.14L100.68,173.68L101.23,173.20L101.78,172.71L102.33,172.20L102.88,171.68L103.42,171.14L103.97,170.59L104.52,170.02L105.07,169.44L105.62,168.84L106.17,168.23L106.72,167.60L107.27,166.96L107.82,166.30L108.37,165.63L108.92,164.94L109.46,164.24L110.01,163.52L110.56,162.79L111.11,162.05L111.66,161.29L112.21,160.52L112.76,159.73L113.31,158.93L113.86,158.12L114.41,157.30L114.95,156.46L115.50,155.61L116.05,154.75L116.60,153.87L117.15,152.99L117.70,152.09L118.25,151.18L118.80,150.26L119.35,149.33L119.90,148.39L120.44,147.44L120.99,146.48L121.54,145.52L122.09,144.54L122.64,143.55L123.19,142.56L123.74,141.55L124.29,140.54L124.84,139.52L125.39,138.50L125.93,137.47L126.48,136.43L127.03,135.38L127.58,134.33L128.13,133.28L128.68,132.22L129.23,131.15L129.78,130.08L130.33,129.01L130.88,127.93L131.42,126.85L131.97,125.77L132.52,124.68L133.07,123.59L133.62,122.50L134.17,121.41L134.72,120.31L135.27,119.22L135.82,118.12L136.37,117.03L136.91,115.93L137.46,114.84L138.01,113.74L138.56,112.65L139.11,111.55L139.66,110.46L140.21,109.37L140.76,108.28L141.31,107.19L141.86,106.11L142.40,105.03L142.95,103.95L143.50,102.88L144.05,101.80L144.60,100.74L145.15,99.67L145.70,98.61L146.25,97.56L146.80,96.51L147.34,95.46L147.89,94.42L148.44,93.38L148.99,92.35L149.54,91.33L150.09,90.31L150.64,89.30L151.19,88.29L151.74,87.29L152.29,86.29L152.84,85.31L153.38,84.33L153.93,83.35L154.48,82.39L155.03,81.43L155.58,80.47L156.13,79.53L156.68,78.59L157.23,77.66L157.78,76.74L158.32,75.83L158.87,74.92L159.42,74.02L159.97,73.13L160.52,72.25L161.07,71.38L161.62,70.51L162.17,69.65L162.72,68.81L163.27,67.97L163.81,67.14L164.36,66.31L164.91,65.50L165.46,64.69L166.01,63.90L166.56,63.11L167.11,62.33L167.66,61.56L168.21,60.80L168.76,60.04L169.31,59.30L169.85,58.56L170.40,57.84L170.95,57.12L171.50,56.41L172.05,55.71L172.60,55.02L173.15,54.33L173.70,53.66L174.25,52.99L174.80,52.34L175.34,51.69L175.89,51.05L176.44,50.42L176.99,49.80L177.54,49.18L178.09,48.58L178.64,47.98L179.19,47.39L179.74,46.81L180.29,46.24L180.83,45.68L181.38,45.12L181.93,44.57L182.48,44.03L183.03,43.50L183.58,42.98L184.13,42.46L184.68,41.95L185.23,41.45L185.78,40.96L186.32,40.48L186.87,40.00L187.42,39.53L187.97,39.07L188.52,38.61L189.07,38.17L189.62,37.73L190.17,37.29L190.72,36.87L191.27,36.45L191.81,36.04L192.36,35.63L192.91,35.23L193.46,34.84L194.01,34.46L194.56,34.08L195.11,33.71L195.66,33.34L196.21,32.98L196.75,32.63L197.30,32.28L197.85,31.94L198.40,31.61L198.95,31.28L199.50,30.96L200.05,30.64L200.60,30.33L201.15,30.02L201.70,29.72L202.25,29.43L202.79,29.14L203.34,28.86L203.89,28.58L204.44,28.30L204.99,28.04L205.54,27.77L206.09,27.51L206.64,27.26L207.19,27.01L207.74,26.77L208.28,26.53L208.83,26.30L209.38,26.07L209.93,25.84L210.48,25.62L211.03,25.40L211.58,25.19L212.13,24.98L212.68,24.78L213.23,24.58L213.77,24.38L214.32,24.19L214.87,24.00L215.42,23.82L215.97,23.64L216.52,23.46L217.07,23.29L217.62,23.12L218.17,22.95L218.72,22.79L219.26,22.63L219.81,22.47L220.36,22.32L220.91,22.17L221.46,22.02L222.01,21.88L222.56,21.74L223.11,21.60L223.66,21.47L224.21,21.34L224.75,21.21L225.30,21.08L225.85,20.96L226.40,20.84L226.95,20.72L227.50,20.60L228.05,20.49L228.60,20.38L229.15,20.27L229.69,20.17L230.24,20.06L230.79,19.96L231.34,19.86L231.89,19.77L232.44,19.67L232.99,19.58L233.54,19.49L234.09,19.40L234.64,19.31L235.19,19.23L235.73,19.15L236.28,19.07L236.83,18.99L237.38,18.91L237.93,18.83L238.48,18.76L239.03,18.69L239.58,18.62L240.13,18.55L240.68,18.48L241.22,18.42L241.77,18.35L242.32,18.29L242.87,18.23L243.42,18.17L243.97,18.11L244.52,18.06L245.07,18.00L245.62,17.95L246.17,17.89L246.71,17.84L247.26,17.79L247.81,17.74L248.36,17.69L248.91,17.65L249.46,17.60L250.01,17.56L250.56,17.51L251.11,17.47L251.66,17.43L252.20,17.39L252.75,17.35L253.30,17.31L253.85,17.27L254.40,17.24" fill="none" stroke="#333" stroke-width="0.7"/>
<text x="34.80" y="195.95" font-family='"Liberation Sans", sans-serif' font-size="9.3" text-anchor="middle" font-weight="normal" font-style="normal" fill="#262626" >0</text>
<text x="89.70" y="195.95" font-family='"Liberation Sans", sans-serif' font-size="9.3" text-anchor="middle" font-weight="normal" font-style="normal" fill="#262626" >50</text>
<text x="144.60" y="195.95" font-family='"Liberation Sans", sans-serif' font-size="9.3" text-anchor="middle" font-weight="normal" font-style="normal" fill="#262626" >100</text>
<text x="199.50" y="195.95" font-family='"Liberation Sans", sans-serif' font-size="9.3" text-anchor="middle" font-weight="normal" font-style="normal" fill="#262626" >150</text>
<text x="254.40" y="195.95" font-family='"Liberation Sans", sans-serif' font-size="9.3" text-anchor="middle" font-weight="normal" font-style="normal" fill="#262626" >200</text>
<text x="31.50" y="186.25" font-family='"Liberation Sans", sans-serif' font-size="9.3" text-anchor="end" font-weight="normal" font-style="normal" fill="#262626" >0</text>
<text x="31.50" y="152.83" font-family='"Liberation Sans", sans-serif' font-size="9.3" text-anchor="end" font-weight="normal" font-style="normal" fill="#262626" >0.2</text>
<text x="31.50" y="119.41" font-family='"Liberation Sans", sans-serif' font-size="9.3" text-anchor="end" font-weight="normal" font-style="normal" fill="#262626" >0.4</text>
<text x="31.50" y="85.99" font-family='"Liberation Sans", sans-serif' font-size="9.3" text-anchor="end" font-weight="normal" font-style="normal" fill="#262626" >0.6</text>
<text x="31.50" y="52.57" font-family='"Liberation Sans", sans-serif' font-size="9.3" text-anchor="end" font-weight="normal" font-style="normal" fill="#262626" >0.8</text>
<text x="31.50" y="19.15" font-family='"Liberation Sans", sans-serif' font-size="9.3" text-anchor="end" font-weight="normal" font-style="normal" fill="#262626" >1</text>
<rect x="166.10" y="129.45" width="82.30" height="47.60" fill="#fff" stroke="#9a9a9a" stroke-width="0.9"/>
<circle cx="178.40" cy="135.95" r="2.45" fill="none" stroke="#ff0000" stroke-width="0.75"/>
<rect x="176.10" y="144.95" width="4.6" height="4.6" fill="none" stroke="#5050ff" stroke-width="0.55"/>
<path d="M178.40,155.75l2.4,2.8l-2.4,2.8l-2.4,-2.8z" fill="none" stroke="#00e000" stroke-width="0.75"/>
<path d="M168.50,170.45H188.00" stroke="#333" stroke-width="0.7"/>
<text x="190.10" y="139.35" font-family='"Liberation Serif", serif' font-size="10" fill="#000" stroke="#000" stroke-width="0.15">(sim.)<tspan x="219.10" font-style="italic">L</tspan><tspan x="226.50">=</tspan><tspan x="234.70" font-size="10.8">16</tspan></text>
<text x="190.10" y="150.65" font-family='"Liberation Serif", serif' font-size="10" fill="#000" stroke="#000" stroke-width="0.15">(sim.)<tspan x="219.10" font-style="italic">L</tspan><tspan x="226.50">=</tspan><tspan x="234.70" font-size="10.8">20</tspan></text>
<text x="190.10" y="161.95" font-family='"Liberation Serif", serif' font-size="10" fill="#000" stroke="#000" stroke-width="0.15">(sim.)<tspan x="219.10" font-style="italic">L</tspan><tspan x="226.50">=</tspan><tspan x="234.70" font-size="10.8">24</tspan></text>
<text x="190.10" y="173.85" font-family='"Liberation Serif", serif' font-size="10" fill="#000" stroke="#000" stroke-width="0.15">Analytical</text>
<text x="144.60" y="209.15" font-family='"Liberation Sans", sans-serif' font-size="10.3" text-anchor="middle" font-weight="normal" font-style="normal" fill="#262626" >Input (x)</text>
<text x="13.60" y="99.40" font-family='"Liberation Sans", sans-serif' font-size="10.3" text-anchor="middle" font-weight="normal" font-style="normal" fill="#262626" transform="rotate(-90 13.6 99.40)">Cumulative Distribution Function (CDF)</text>
<text x="144.60" y="11.55" font-family='"Liberation Sans", sans-serif' font-size="10.25" text-anchor="middle" font-weight="bold" font-style="normal" fill="#000" >Rayleigh Fading Enviroment</text>
<text x="126.00" y="229.55" font-family='"Liberation Serif", serif' font-size="14.5" text-anchor="middle" fill="#000">(<tspan font-weight="bold">a</tspan>)</text>
<rect x="321.60" y="15.70" width="219.20" height="167.70" fill="#fff"/>
<path d="M321.60,15.70H540.80V183.40H321.60ZM321.60,183.40v-2.2M321.60,15.70v2.2M365.44,183.40v-2.2M365.44,15.70v2.2M409.28,183.40v-2.2M409.28,15.70v2.2M453.12,183.40v-2.2M453.12,15.70v2.2M496.96,183.40v-2.2M496.96,15.70v2.2M540.80,183.40v-2.2M540.80,15.70v2.2M321.60,183.40h2.2M540.80,183.40h-2.2M321.60,127.50h2.2M540.80,127.50h-2.2M321.60,71.60h2.2M540.80,71.60h-2.2M321.60,15.70h2.2M540.80,15.70h-2.2" fill="none" stroke="#9a9a9a" stroke-width="0.9"/>
<path d="M321.60,183.40V53.38H330.37V183.40M330.37,183.40V89.26H339.14V183.40M339.14,183.40V113.19H347.90V183.40M347.90,183.40V126.16H356.67V183.40M356.67,183.40V140.92H365.44V183.40M365.44,183.40V149.41H374.21V183.40M374.21,183.40V156.23H382.98V183.40M382.98,183.40V162.61H391.74V183.40M391.74,183.40V167.19H400.51V183.40M400.51,183.40V170.99H409.28V183.40M409.28,183.40V173.23H418.05V183.40M418.05,183.40V174.90H426.82V183.40M426.82,183.40V177.36H435.58V183.40M435.58,183.40V179.60H444.35V183.40M444.35,183.40V180.94H453.12V183.40M453.12,183.40V181.05H461.89V183.40M461.89,183.40V181.50H470.66V183.40M470.66,183.40V182.17H479.42V183.40M479.42,183.40V182.03H488.19V183.40M488.19,183.40V182.33H496.96V183.40M496.96,183.40V182.57H505.73V183.40M505.73,183.40V182.75H514.50V183.40M514.50,183.40V182.89H523.26V183.40M523.26,183.40V183.01H532.03V183.40M532.03,183.40V183.09H540.80V183.40" fill="#63a6d6" stroke="#3a5f78" stroke-width="0.7"/>
<path d="M321.60,47.14L322.70,51.23L323.79,55.20L324.89,59.05L325.98,62.78L327.08,66.40L328.18,69.91L329.27,73.31L330.37,76.62L331.46,79.82L332.56,82.93L333.66,85.95L334.75,88.87L335.85,91.71L336.94,94.46L338.04,97.13L339.14,99.72L340.23,102.23L341.33,104.66L342.42,107.03L343.52,109.32L344.62,111.54L345.71,113.70L346.81,115.79L347.90,117.82L349.00,119.79L350.10,121.70L351.19,123.55L352.29,125.34L353.38,127.09L354.48,128.78L355.58,130.42L356.67,132.01L357.77,133.55L358.86,135.04L359.96,136.49L361.06,137.90L362.15,139.27L363.25,140.59L364.34,141.88L365.44,143.12L366.54,144.33L367.63,145.50L368.73,146.64L369.82,147.74L370.92,148.81L372.02,149.85L373.11,150.86L374.21,151.84L375.30,152.78L376.40,153.70L377.50,154.59L378.59,155.46L379.69,156.30L380.78,157.11L381.88,157.90L382.98,158.66L384.07,159.41L385.17,160.13L386.26,160.82L387.36,161.50L388.46,162.16L389.55,162.80L390.65,163.41L391.74,164.01L392.84,164.60L393.94,165.16L395.03,165.71L396.13,166.24L397.22,166.75L398.32,167.25L399.42,167.74L400.51,168.21L401.61,168.66L402.70,169.11L403.80,169.53L404.90,169.95L405.99,170.35L407.09,170.75L408.18,171.13L409.28,171.49L410.38,171.85L411.47,172.20L412.57,172.53L413.66,172.86L414.76,173.18L415.86,173.48L416.95,173.78L418.05,174.07L419.14,174.35L420.24,174.62L421.34,174.88L422.43,175.14L423.53,175.39L424.62,175.63L425.72,175.86L426.82,176.09L427.91,176.31L429.01,176.52L430.10,176.73L431.20,176.93L432.30,177.12L433.39,177.31L434.49,177.49L435.58,177.67L436.68,177.84L437.78,178.01L438.87,178.17L439.97,178.33L441.06,178.48L442.16,178.63L443.26,178.77L444.35,178.91L445.45,179.04L446.54,179.17L447.64,179.30L448.74,179.42L449.83,179.54L450.93,179.66L452.02,179.77L453.12,179.88L454.22,179.99L455.31,180.09L456.41,180.19L457.50,180.28L458.60,180.38L459.70,180.47L460.79,180.56L461.89,180.64L462.98,180.72L464.08,180.80L465.18,180.88L466.27,180.96L467.37,181.03L468.46,181.10L469.56,181.17L470.66,181.24L471.75,181.30L472.85,181.37L473.94,181.43L475.04,181.49L476.14,181.54L477.23,181.60L478.33,181.65L479.42,181.71L480.52,181.76L481.62,181.81L482.71,181.85L483.81,181.90L484.90,181.95L486.00,181.99L487.10,182.03L488.19,182.07L489.29,182.11L490.38,182.15L491.48,182.19L492.58,182.22L493.67,182.26L494.77,182.29L495.86,182.33L496.96,182.36L498.06,182.39L499.15,182.42L500.25,182.45L501.34,182.48L502.44,182.51L503.54,182.53L504.63,182.56L505.73,182.58L506.82,182.61L507.92,182.63L509.02,182.66L510.11,182.68L511.21,182.70L512.30,182.72L513.40,182.74L514.50,182.76L515.59,182.78L516.69,182.80L517.78,182.82L518.88,182.83L519.98,182.85L521.07,182.87L522.17,182.88L523.26,182.90L524.36,182.91L525.46,182.93L526.55,182.94L527.65,182.96L528.74,182.97L529.84,182.98L530.94,183.00L532.03,183.01L533.13,183.02L534.22,183.03L535.32,183.04L536.42,183.05L537.51,183.06L538.61,183.07L539.70,183.08L540.80,183.09" fill="none" stroke="#ff3030" stroke-width="0.7"/>
<text x="321.60" y="196.40" font-family='"Liberation Sans", sans-serif' font-size="9.3" text-anchor="middle" font-weight="normal" font-style="normal" fill="#262626" >0</text>
<text x="365.44" y="196.40" font-family='"Liberation Sans", sans-serif' font-size="9.3" text-anchor="middle" font-weight="normal" font-style="normal" fill="#262626" >10</text>
<text x="409.28" y="196.40" font-family='"Liberation Sans", sans-serif' font-size="9.3" text-anchor="middle" font-weight="normal" font-style="normal" fill="#262626" >20</text>
<text x="453.12" y="196.40" font-family='"Liberation Sans", sans-serif' font-size="9.3" text-anchor="middle" font-weight="normal" font-style="normal" fill="#262626" >30</text>
<text x="496.96" y="196.40" font-family='"Liberation Sans", sans-serif' font-size="9.3" text-anchor="middle" font-weight="normal" font-style="normal" fill="#262626" >40</text>
<text x="540.80" y="196.40" font-family='"Liberation Sans", sans-serif' font-size="9.3" text-anchor="middle" font-weight="normal" font-style="normal" fill="#262626" >50</text>
<text x="318.30" y="186.70" font-family='"Liberation Sans", sans-serif' font-size="9.3" text-anchor="end" font-weight="normal" font-style="normal" fill="#262626" >0</text>
<text x="318.30" y="130.80" font-family='"Liberation Sans", sans-serif' font-size="9.3" text-anchor="end" font-weight="normal" font-style="normal" fill="#262626" >0.05</text>
<text x="318.30" y="74.90" font-family='"Liberation Sans", sans-serif' font-size="9.3" text-anchor="end" font-weight="normal" font-style="normal" fill="#262626" >0.1</text>
<text x="318.30" y="19.00" font-family='"Liberation Sans", sans-serif' font-size="9.3" text-anchor="end" font-weight="normal" font-style="normal" fill="#262626" >0.15</text>
<rect x="453.00" y="20.90" width="82.50" height="24.80" fill="#fff" stroke="#9a9a9a" stroke-width="0.9"/>
<rect x="455.3" y="23.00" width="20.4" height="8.2" fill="#63a6d6" stroke="#3a5f78" stroke-width="0.7"/>
<path d="M455.3,38.60H475.3" stroke="#ff3030" stroke-width="0.7"/>
<text x="477.20" y="30.50" font-family='"Liberation Serif", serif' font-size="10" fill="#000" stroke="#000" stroke-width="0.15">(sim.)<tspan x="506.20" font-style="italic">L</tspan><tspan x="513.60">=</tspan><tspan x="521.80" font-size="10.8">16</tspan></text>
<text x="477.20" y="42.00" font-family='"Liberation Serif", serif' font-size="10" fill="#000" stroke="#000" stroke-width="0.15">Analytical</text>
<text x="431.20" y="209.60" font-family='"Liberation Sans", sans-serif' font-size="10.3" text-anchor="middle" font-weight="normal" font-style="normal" fill="#262626" >Input (x)</text>
<text x="297.00" y="99.55" font-family='"Liberation Sans", sans-serif' font-size="10.3" text-anchor="middle" font-weight="normal" font-style="normal" fill="#262626" transform="rotate(-90 297 99.55)">Probability Density Function (PDF)</text>
<text x="431.20" y="12.80" font-family='"Liberation Sans", sans-serif' font-size="10.25" text-anchor="middle" font-weight="bold" font-style="normal" fill="#000" >Rayleigh Fading Enviroment</text>
<text x="439.60" y="230.00" font-family='"Liberation Serif", serif' font-size="14.5" text-anchor="middle" fill="#000">(<tspan font-weight="bold">b</tspan>)</text>
<rect x="34.80" y="250.40" width="219.60" height="167.10" fill="#fff"/>
<path d="M34.80,250.40H254.40V417.50H34.80ZM34.80,417.50v-2.2M34.80,250.40v2.2M89.70,417.50v-2.2M89.70,250.40v2.2M144.60,417.50v-2.2M144.60,250.40v2.2M199.50,417.50v-2.2M199.50,250.40v2.2M254.40,417.50v-2.2M254.40,250.40v2.2M34.80,417.50h2.2M254.40,417.50h-2.2M34.80,384.08h2.2M254.40,384.08h-2.2M34.80,350.66h2.2M254.40,350.66h-2.2M34.80,317.24h2.2M254.40,317.24h-2.2M34.80,283.82h2.2M254.40,283.82h-2.2M34.80,250.40h2.2M254.40,250.40h-2.2" fill="none" stroke="#9a9a9a" stroke-width="0.9"/>
<path d="M32.35,417.50a2.45,2.45 0 1,0 4.9,0a2.45,2.45 0 1,0 -4.9,0M34.55,417.50a2.45,2.45 0 1,0 4.9,0a2.45,2.45 0 1,0 -4.9,0M36.74,417.50a2.45,2.45 0 1,0 4.9,0a2.45,2.45 0 1,0 -4.9,0M38.94,417.50a2.45,2.45 0 1,0 4.9,0a2.45,2.45 0 1,0 -4.9,0M41.13,417.50a2.45,2.45 0 1,0 4.9,0a2.45,2.45 0 1,0 -4.9,0M43.33,417.50a2.45,2.45 0 1,0 4.9,0a2.45,2.45 0 1,0 -4.9,0M45.53,417.50a2.45,2.45 0 1,0 4.9,0a2.45,2.45 0 1,0 -4.9,0M47.72,417.50a2.45,2.45 0 1,0 4.9,0a2.45,2.45 0 1,0 -4.9,0M49.92,417.39a2.45,2.45 0 1,0 4.9,0a2.45,2.45 0 1,0 -4.9,0M52.11,417.25a2.45,2.45 0 1,0 4.9,0a2.45,2.45 0 1,0 -4.9,0M54.31,416.96a2.45,2.45 0 1,0 4.9,0a2.45,2.45 0 1,0 -4.9,0M56.51,416.47a2.45,2.45 0 1,0 4.9,0a2.45,2.45 0 1,0 -4.9,0M58.70,415.66a2.45,2.45 0 1,0 4.9,0a2.45,2.45 0 1,0 -4.9,0M60.90,414.45a2.45,2.45 0 1,0 4.9,0a2.45,2.45 0 1,0 -4.9,0M63.09,412.73a2.45,2.45 0 1,0 4.9,0a2.45,2.45 0 1,0 -4.9,0M65.29,410.41a2.45,2.45 0 1,0 4.9,0a2.45,2.45 0 1,0 -4.9,0M67.49,407.40a2.45,2.45 0 1,0 4.9,0a2.45,2.45 0 1,0 -4.9,0M69.68,403.66a2.45,2.45 0 1,0 4.9,0a2.45,2.45 0 1,0 -4.9,0M71.88,399.17a2.45,2.45 0 1,0 4.9,0a2.45,2.45 0 1,0 -4.9,0M74.07,393.93a2.45,2.45 0 1,0 4.9,0a2.45,2.45 0 1,0 -4.9,0M76.27,387.99a2.45,2.45 0 1,0 4.9,0a2.45,2.45 0 1,0 -4.9,0M78.47,381.42a2.45,2.45 0 1,0 4.9,0a2.45,2.45 0 1,0 -4.9,0M80.66,374.32a2.45,2.45 0 1,0 4.9,0a2.45,2.45 0 1,0 -4.9,0M82.86,366.80a2.45,2.45 0 1,0 4.9,0a2.45,2.45 0 1,0 -4.9,0M85.05,358.97a2.45,2.45 0 1,0 4.9,0a2.45,2.45 0 1,0 -4.9,0M87.25,350.98a2.45,2.45 0 1,0 4.9,0a2.45,2.45 0 1,0 -4.9,0M89.45,342.94a2.45,2.45 0 1,0 4.9,0a2.45,2.45 0 1,0 -4.9,0M91.64,334.97a2.45,2.45 0 1,0 4.9,0a2.45,2.45 0 1,0 -4.9,0M93.84,327.17a2.45,2.45 0 1,0 4.9,0a2.45,2.45 0 1,0 -4.9,0M96.03,319.65a2.45,2.45 0 1,0 4.9,0a2.45,2.45 0 1,0 -4.9,0M98.23,312.47a2.45,2.45 0 1,0 4.9,0a2.45,2.45 0 1,0 -4.9,0M100.43,305.69a2.45,2.45 0 1,0 4.9,0a2.45,2.45 0 1,0 -4.9,0M102.62,299.36a2.45,2.45 0 1,0 4.9,0a2.45,2.45 0 1,0 -4.9,0M104.82,293.51a2.45,2.45 0 1,0 4.9,0a2.45,2.45 0 1,0 -4.9,0M107.01,288.15a2.45,2.45 0 1,0 4.9,0a2.45,2.45 0 1,0 -4.9,0M109.21,283.27a2.45,2.45 0 1,0 4.9,0a2.45,2.45 0 1,0 -4.9,0M111.41,278.87a2.45,2.45 0 1,0 4.9,0a2.45,2.45 0 1,0 -4.9,0M113.60,274.94a2.45,2.45 0 1,0 4.9,0a2.45,2.45 0 1,0 -4.9,0M115.80,271.45a2.45,2.45 0 1,0 4.9,0a2.45,2.45 0 1,0 -4.9,0M117.99,268.37a2.45,2.45 0 1,0 4.9,0a2.45,2.45 0 1,0 -4.9,0M120.19,265.67a2.45,2.45 0 1,0 4.9,0a2.45,2.45 0 1,0 -4.9,0M122.39,263.32a2.45,2.45 0 1,0 4.9,0a2.45,2.45 0 1,0 -4.9,0M124.58,261.28a2.45,2.45 0 1,0 4.9,0a2.45,2.45 0 1,0 -4.9,0M126.78,259.53a2.45,2.45 0 1,0 4.9,0a2.45,2.45 0 1,0 -4.9,0M128.97,258.03a2.45,2.45 0 1,0 4.9,0a2.45,2.45 0 1,0 -4.9,0M131.17,256.75a2.45,2.45 0 1,0 4.9,0a2.45,2.45 0 1,0 -4.9,0M133.37,255.67a2.45,2.45 0 1,0 4.9,0a2.45,2.45 0 1,0 -4.9,0M135.56,254.75a2.45,2.45 0 1,0 4.9,0a2.45,2.45 0 1,0 -4.9,0M137.76,253.99a2.45,2.45 0 1,0 4.9,0a2.45,2.45 0 1,0 -4.9,0M139.95,253.34a2.45,2.45 0 1,0 4.9,0a2.45,2.45 0 1,0 -4.9,0M142.15,252.81a2.45,2.45 0 1,0 4.9,0a2.45,2.45 0 1,0 -4.9,0M144.35,252.36a2.45,2.45 0 1,0 4.9,0a2.45,2.45 0 1,0 -4.9,0M146.54,252.00a2.45,2.45 0 1,0 4.9,0a2.45,2.45 0 1,0 -4.9,0M148.74,251.70a2.45,2.45 0 1,0 4.9,0a2.45,2.45 0 1,0 -4.9,0M150.93,251.45a2.45,2.45 0 1,0 4.9,0a2.45,2.45 0 1,0 -4.9,0M153.13,251.24a2.45,2.45 0 1,0 4.9,0a2.45,2.45 0 1,0 -4.9,0M155.33,251.08a2.45,2.45 0 1,0 4.9,0a2.45,2.45 0 1,0 -4.9,0M157.52,250.95a2.45,2.45 0 1,0 4.9,0a2.45,2.45 0 1,0 -4.9,0M159.72,250.84a2.45,2.45 0 1,0 4.9,0a2.45,2.45 0 1,0 -4.9,0M161.91,250.75a2.45,2.45 0 1,0 4.9,0a2.45,2.45 0 1,0 -4.9,0M164.11,250.68a2.45,2.45 0 1,0 4.9,0a2.45,2.45 0 1,0 -4.9,0M166.31,250.62a2.45,2.45 0 1,0 4.9,0a2.45,2.45 0 1,0 -4.9,0M168.50,250.58a2.45,2.45 0 1,0 4.9,0a2.45,2.45 0 1,0 -4.9,0M170.70,250.54a2.45,2.45 0 1,0 4.9,0a2.45,2.45 0 1,0 -4.9,0M172.89,250.51a2.45,2.45 0 1,0 4.9,0a2.45,2.45 0 1,0 -4.9,0M175.09,250.49a2.45,2.45 0 1,0 4.9,0a2.45,2.45 0 1,0 -4.9,0M177.29,250.40a2.45,2.45 0 1,0 4.9,0a2.45,2.45 0 1,0 -4.9,0M179.48,250.40a2.45,2.45 0 1,0 4.9,0a2.45,2.45 0 1,0 -4.9,0M181.68,250.40a2.45,2.45 0 1,0 4.9,0a2.45,2.45 0 1,0 -4.9,0M183.87,250.40a2.45,2.45 0 1,0 4.9,0a2.45,2.45 0 1,0 -4.9,0M186.07,250.40a2.45,2.45 0 1,0 4.9,0a2.45,2.45 0 1,0 -4.9,0M188.27,250.40a2.45,2.45 0 1,0 4.9,0a2.45,2.45 0 1,0 -4.9,0M190.46,250.40a2.45,2.45 0 1,0 4.9,0a2.45,2.45 0 1,0 -4.9,0M192.66,250.40a2.45,2.45 0 1,0 4.9,0a2.45,2.45 0 1,0 -4.9,0M194.85,250.40a2.45,2.45 0 1,0 4.9,0a2.45,2.45 0 1,0 -4.9,0M197.05,250.40a2.45,2.45 0 1,0 4.9,0a2.45,2.45 0 1,0 -4.9,0M199.25,250.40a2.45,2.45 0 1,0 4.9,0a2.45,2.45 0 1,0 -4.9,0M201.44,250.40a2.45,2.45 0 1,0 4.9,0a2.45,2.45 0 1,0 -4.9,0M203.64,250.40a2.45,2.45 0 1,0 4.9,0a2.45,2.45 0 1,0 -4.9,0M205.83,250.40a2.45,2.45 0 1,0 4.9,0a2.45,2.45 0 1,0 -4.9,0M208.03,250.40a2.45,2.45 0 1,0 4.9,0a2.45,2.45 0 1,0 -4.9,0M210.23,250.40a2.45,2.45 0 1,0 4.9,0a2.45,2.45 0 1,0 -4.9,0M212.42,250.40a2.45,2.45 0 1,0 4.9,0a2.45,2.45 0 1,0 -4.9,0M214.62,250.40a2.45,2.45 0 1,0 4.9,0a2.45,2.45 0 1,0 -4.9,0M216.81,250.40a2.45,2.45 0 1,0 4.9,0a2.45,2.45 0 1,0 -4.9,0M219.01,250.40a2.45,2.45 0 1,0 4.9,0a2.45,2.45 0 1,0 -4.9,0M221.21,250.40a2.45,2.45 0 1,0 4.9,0a2.45,2.45 0 1,0 -4.9,0M223.40,250.40a2.45,2.45 0 1,0 4.9,0a2.45,2.45 0 1,0 -4.9,0M225.60,250.40a2.45,2.45 0 1,0 4.9,0a2.45,2.45 0 1,0 -4.9,0M227.79,250.40a2.45,2.45 0 1,0 4.9,0a2.45,2.45 0 1,0 -4.9,0M229.99,250.40a2.45,2.45 0 1,0 4.9,0a2.45,2.45 0 1,0 -4.9,0M232.19,250.40a2.45,2.45 0 1,0 4.9,0a2.45,2.45 0 1,0 -4.9,0M234.38,250.40a2.45,2.45 0 1,0 4.9,0a2.45,2.45 0 1,0 -4.9,0M236.58,250.40a2.45,2.45 0 1,0 4.9,0a2.45,2.45 0 1,0 -4.9,0M238.77,250.40a2.45,2.45 0 1,0 4.9,0a2.45,2.45 0 1,0 -4.9,0M240.97,250.40a2.45,2.45 0 1,0 4.9,0a2.45,2.45 0 1,0 -4.9,0M243.17,250.40a2.45,2.45 0 1,0 4.9,0a2.45,2.45 0 1,0 -4.9,0M245.36,250.40a2.45,2.45 0 1,0 4.9,0a2.45,2.45 0 1,0 -4.9,0M247.56,250.40a2.45,2.45 0 1,0 4.9,0a2.45,2.45 0 1,0 -4.9,0M249.75,250.40a2.45,2.45 0 1,0 4.9,0a2.45,2.45 0 1,0 -4.9,0M251.95,250.40a2.45,2.45 0 1,0 4.9,0a2.45,2.45 0 1,0 -4.9,0" fill="none" stroke="#ff0000" stroke-width="0.75"/>
<path d="M32.50,415.20h4.6v4.6h-4.6zM34.70,415.20h4.6v4.6h-4.6zM36.89,415.20h4.6v4.6h-4.6zM39.09,415.20h4.6v4.6h-4.6zM41.28,415.20h4.6v4.6h-4.6zM43.48,415.20h4.6v4.6h-4.6zM45.68,415.20h4.6v4.6h-4.6zM47.87,415.20h4.6v4.6h-4.6zM50.07,415.20h4.6v4.6h-4.6zM52.26,415.20h4.6v4.6h-4.6zM54.46,415.20h4.6v4.6h-4.6zM56.66,415.20h4.6v4.6h-4.6zM58.85,415.20h4.6v4.6h-4.6zM61.05,415.20h4.6v4.6h-4.6zM63.24,415.20h4.6v4.6h-4.6zM65.44,415.20h4.6v4.6h-4.6zM67.64,415.20h4.6v4.6h-4.6zM69.83,415.20h4.6v4.6h-4.6zM72.03,415.20h4.6v4.6h-4.6zM74.22,415.03h4.6v4.6h-4.6zM76.42,414.77h4.6v4.6h-4.6zM78.62,414.31h4.6v4.6h-4.6zM80.81,413.57h4.6v4.6h-4.6zM83.01,412.48h4.6v4.6h-4.6zM85.20,410.99h4.6v4.6h-4.6zM87.40,409.04h4.6v4.6h-4.6zM89.60,406.60h4.6v4.6h-4.6zM91.79,403.68h4.6v4.6h-4.6zM93.99,400.25h4.6v4.6h-4.6zM96.18,396.35h4.6v4.6h-4.6zM98.38,392.01h4.6v4.6h-4.6zM100.58,387.26h4.6v4.6h-4.6zM102.77,382.16h4.6v4.6h-4.6zM104.97,376.76h4.6v4.6h-4.6zM107.16,371.13h4.6v4.6h-4.6zM109.36,365.31h4.6v4.6h-4.6zM111.56,359.37h4.6v4.6h-4.6zM113.75,353.37h4.6v4.6h-4.6zM115.95,347.37h4.6v4.6h-4.6zM118.14,341.40h4.6v4.6h-4.6zM120.34,335.51h4.6v4.6h-4.6zM122.54,329.75h4.6v4.6h-4.6zM124.73,324.14h4.6v4.6h-4.6zM126.93,318.72h4.6v4.6h-4.6zM129.12,313.51h4.6v4.6h-4.6zM131.32,308.52h4.6v4.6h-4.6zM133.52,303.78h4.6v4.6h-4.6zM135.71,299.28h4.6v4.6h-4.6zM137.91,295.03h4.6v4.6h-4.6zM140.10,291.04h4.6v4.6h-4.6zM142.30,287.31h4.6v4.6h-4.6zM144.50,283.82h4.6v4.6h-4.6zM146.69,280.58h4.6v4.6h-4.6zM148.89,277.57h4.6v4.6h-4.6zM151.08,274.79h4.6v4.6h-4.6zM153.28,272.23h4.6v4.6h-4.6zM155.48,269.88h4.6v4.6h-4.6zM157.67,267.72h4.6v4.6h-4.6zM159.87,265.75h4.6v4.6h-4.6zM162.06,263.95h4.6v4.6h-4.6zM164.26,262.32h4.6v4.6h-4.6zM166.46,260.83h4.6v4.6h-4.6zM168.65,259.48h4.6v4.6h-4.6zM170.85,258.26h4.6v4.6h-4.6zM173.04,257.16h4.6v4.6h-4.6zM175.24,256.17h4.6v4.6h-4.6zM177.44,255.28h4.6v4.6h-4.6zM179.63,254.48h4.6v4.6h-4.6zM181.83,253.76h4.6v4.6h-4.6zM184.02,253.11h4.6v4.6h-4.6zM186.22,252.54h4.6v4.6h-4.6zM188.42,252.03h4.6v4.6h-4.6zM190.61,251.57h4.6v4.6h-4.6zM192.81,251.16h4.6v4.6h-4.6zM195.00,250.80h4.6v4.6h-4.6zM197.20,250.48h4.6v4.6h-4.6zM199.40,250.19h4.6v4.6h-4.6zM201.59,249.94h4.6v4.6h-4.6zM203.79,249.72h4.6v4.6h-4.6zM205.98,249.52h4.6v4.6h-4.6zM208.18,249.34h4.6v4.6h-4.6zM210.38,249.19h4.6v4.6h-4.6zM212.57,249.05h4.6v4.6h-4.6zM214.77,248.93h4.6v4.6h-4.6zM216.96,248.83h4.6v4.6h-4.6zM219.16,248.74h4.6v4.6h-4.6zM221.36,248.66h4.6v4.6h-4.6zM223.55,248.59h4.6v4.6h-4.6zM225.75,248.52h4.6v4.6h-4.6zM227.94,248.47h4.6v4.6h-4.6zM230.14,248.42h4.6v4.6h-4.6zM232.34,248.38h4.6v4.6h-4.6zM234.53,248.34h4.6v4.6h-4.6zM236.73,248.31h4.6v4.6h-4.6zM238.92,248.29h4.6v4.6h-4.6zM241.12,248.26h4.6v4.6h-4.6zM243.32,248.24h4.6v4.6h-4.6zM245.51,248.23h4.6v4.6h-4.6zM247.71,248.21h4.6v4.6h-4.6zM249.90,248.19h4.6v4.6h-4.6zM252.10,248.10h4.6v4.6h-4.6z" fill="none" stroke="#5050ff" stroke-width="0.55"/>
<path d="M34.80,414.70l2.4,2.8l-2.4,2.8l-2.4,-2.8zM37.00,414.70l2.4,2.8l-2.4,2.8l-2.4,-2.8zM39.19,414.70l2.4,2.8l-2.4,2.8l-2.4,-2.8zM41.39,414.70l2.4,2.8l-2.4,2.8l-2.4,-2.8zM43.58,414.70l2.4,2.8l-2.4,2.8l-2.4,-2.8zM45.78,414.70l2.4,2.8l-2.4,2.8l-2.4,-2.8zM47.98,414.70l2.4,2.8l-2.4,2.8l-2.4,-2.8zM50.17,414.70l2.4,2.8l-2.4,2.8l-2.4,-2.8zM52.37,414.70l2.4,2.8l-2.4,2.8l-2.4,-2.8zM54.56,414.70l2.4,2.8l-2.4,2.8l-2.4,-2.8zM56.76,414.70l2.4,2.8l-2.4,2.8l-2.4,-2.8zM58.96,414.70l2.4,2.8l-2.4,2.8l-2.4,-2.8zM61.15,414.70l2.4,2.8l-2.4,2.8l-2.4,-2.8zM63.35,414.70l2.4,2.8l-2.4,2.8l-2.4,-2.8zM65.54,414.70l2.4,2.8l-2.4,2.8l-2.4,-2.8zM67.74,414.70l2.4,2.8l-2.4,2.8l-2.4,-2.8zM69.94,414.70l2.4,2.8l-2.4,2.8l-2.4,-2.8zM72.13,414.70l2.4,2.8l-2.4,2.8l-2.4,-2.8zM74.33,414.70l2.4,2.8l-2.4,2.8l-2.4,-2.8zM76.52,414.70l2.4,2.8l-2.4,2.8l-2.4,-2.8zM78.72,414.70l2.4,2.8l-2.4,2.8l-2.4,-2.8zM80.92,414.70l2.4,2.8l-2.4,2.8l-2.4,-2.8zM83.11,414.70l2.4,2.8l-2.4,2.8l-2.4,-2.8zM85.31,414.70l2.4,2.8l-2.4,2.8l-2.4,-2.8zM87.50,414.70l2.4,2.8l-2.4,2.8l-2.4,-2.8zM89.70,414.70l2.4,2.8l-2.4,2.8l-2.4,-2.8zM91.90,414.70l2.4,2.8l-2.4,2.8l-2.4,-2.8zM94.09,414.70l2.4,2.8l-2.4,2.8l-2.4,-2.8zM96.29,414.70l2.4,2.8l-2.4,2.8l-2.4,-2.8zM98.48,414.70l2.4,2.8l-2.4,2.8l-2.4,-2.8zM100.68,414.60l2.4,2.8l-2.4,2.8l-2.4,-2.8zM102.88,414.46l2.4,2.8l-2.4,2.8l-2.4,-2.8zM105.07,414.20l2.4,2.8l-2.4,2.8l-2.4,-2.8zM107.27,413.79l2.4,2.8l-2.4,2.8l-2.4,-2.8zM109.46,413.17l2.4,2.8l-2.4,2.8l-2.4,-2.8zM111.66,412.30l2.4,2.8l-2.4,2.8l-2.4,-2.8zM113.86,411.16l2.4,2.8l-2.4,2.8l-2.4,-2.8zM116.05,409.71l2.4,2.8l-2.4,2.8l-2.4,-2.8zM118.25,407.93l2.4,2.8l-2.4,2.8l-2.4,-2.8zM120.44,405.81l2.4,2.8l-2.4,2.8l-2.4,-2.8zM122.64,403.35l2.4,2.8l-2.4,2.8l-2.4,-2.8zM124.84,400.54l2.4,2.8l-2.4,2.8l-2.4,-2.8zM127.03,397.40l2.4,2.8l-2.4,2.8l-2.4,-2.8zM129.23,393.95l2.4,2.8l-2.4,2.8l-2.4,-2.8zM131.42,390.20l2.4,2.8l-2.4,2.8l-2.4,-2.8zM133.62,386.19l2.4,2.8l-2.4,2.8l-2.4,-2.8zM135.82,381.94l2.4,2.8l-2.4,2.8l-2.4,-2.8zM138.01,377.49l2.4,2.8l-2.4,2.8l-2.4,-2.8zM140.21,372.88l2.4,2.8l-2.4,2.8l-2.4,-2.8zM142.40,368.12l2.4,2.8l-2.4,2.8l-2.4,-2.8zM144.60,363.26l2.4,2.8l-2.4,2.8l-2.4,-2.8zM146.80,358.34l2.4,2.8l-2.4,2.8l-2.4,-2.8zM148.99,353.38l2.4,2.8l-2.4,2.8l-2.4,-2.8zM151.19,348.41l2.4,2.8l-2.4,2.8l-2.4,-2.8zM153.38,343.47l2.4,2.8l-2.4,2.8l-2.4,-2.8zM155.58,338.58l2.4,2.8l-2.4,2.8l-2.4,-2.8zM157.78,333.75l2.4,2.8l-2.4,2.8l-2.4,-2.8zM159.97,329.02l2.4,2.8l-2.4,2.8l-2.4,-2.8zM162.17,324.40l2.4,2.8l-2.4,2.8l-2.4,-2.8zM164.36,319.90l2.4,2.8l-2.4,2.8l-2.4,-2.8zM166.56,315.54l2.4,2.8l-2.4,2.8l-2.4,-2.8zM168.76,311.33l2.4,2.8l-2.4,2.8l-2.4,-2.8zM170.95,307.28l2.4,2.8l-2.4,2.8l-2.4,-2.8zM173.15,303.39l2.4,2.8l-2.4,2.8l-2.4,-2.8zM175.34,299.68l2.4,2.8l-2.4,2.8l-2.4,-2.8zM177.54,296.13l2.4,2.8l-2.4,2.8l-2.4,-2.8zM179.74,292.76l2.4,2.8l-2.4,2.8l-2.4,-2.8zM181.93,289.56l2.4,2.8l-2.4,2.8l-2.4,-2.8zM184.13,286.53l2.4,2.8l-2.4,2.8l-2.4,-2.8zM186.32,283.67l2.4,2.8l-2.4,2.8l-2.4,-2.8zM188.52,280.97l2.4,2.8l-2.4,2.8l-2.4,-2.8zM190.72,278.44l2.4,2.8l-2.4,2.8l-2.4,-2.8zM192.91,276.06l2.4,2.8l-2.4,2.8l-2.4,-2.8zM195.11,273.84l2.4,2.8l-2.4,2.8l-2.4,-2.8zM197.30,271.76l2.4,2.8l-2.4,2.8l-2.4,-2.8zM199.50,269.82l2.4,2.8l-2.4,2.8l-2.4,-2.8zM201.70,268.01l2.4,2.8l-2.4,2.8l-2.4,-2.8zM203.89,266.33l2.4,2.8l-2.4,2.8l-2.4,-2.8zM206.09,264.77l2.4,2.8l-2.4,2.8l-2.4,-2.8zM208.28,263.32l2.4,2.8l-2.4,2.8l-2.4,-2.8zM210.48,261.98l2.4,2.8l-2.4,2.8l-2.4,-2.8zM212.68,260.74l2.4,2.8l-2.4,2.8l-2.4,-2.8zM214.87,259.60l2.4,2.8l-2.4,2.8l-2.4,-2.8zM217.07,258.55l2.4,2.8l-2.4,2.8l-2.4,-2.8zM219.26,257.58l2.4,2.8l-2.4,2.8l-2.4,-2.8zM221.46,256.69l2.4,2.8l-2.4,2.8l-2.4,-2.8zM223.66,255.87l2.4,2.8l-2.4,2.8l-2.4,-2.8zM225.85,255.12l2.4,2.8l-2.4,2.8l-2.4,-2.8zM228.05,254.43l2.4,2.8l-2.4,2.8l-2.4,-2.8zM230.24,253.80l2.4,2.8l-2.4,2.8l-2.4,-2.8zM232.44,253.22l2.4,2.8l-2.4,2.8l-2.4,-2.8zM234.64,252.69l2.4,2.8l-2.4,2.8l-2.4,-2.8zM236.83,252.21l2.4,2.8l-2.4,2.8l-2.4,-2.8zM239.03,251.78l2.4,2.8l-2.4,2.8l-2.4,-2.8zM241.22,251.38l2.4,2.8l-2.4,2.8l-2.4,-2.8zM243.42,251.01l2.4,2.8l-2.4,2.8l-2.4,-2.8zM245.62,250.68l2.4,2.8l-2.4,2.8l-2.4,-2.8zM247.81,250.38l2.4,2.8l-2.4,2.8l-2.4,-2.8zM250.01,250.11l2.4,2.8l-2.4,2.8l-2.4,-2.8zM252.20,249.86l2.4,2.8l-2.4,2.8l-2.4,-2.8zM254.40,249.64l2.4,2.8l-2.4,2.8l-2.4,-2.8z" fill="none" stroke="#00e000" stroke-width="0.75"/>
<path d="M34.80,417.50L35.35,417.50L35.90,417.50L36.45,417.50L37.00,417.50L37.54,417.50L38.09,417.50L38.64,417.50L39.19,417.50L39.74,417.50L40.29,417.50L40.84,417.50L41.39,417.50L41.94,417.50L42.49,417.50L43.03,417.50L43.58,417.50L44.13,417.50L44.68,417.50L45.23,417.50L45.78,417.50L46.33,417.50L46.88,417.50L47.43,417.50L47.98,417.50L48.52,417.50L49.07,417.50L49.62,417.50L50.17,417.50L50.72,417.50L51.27,417.50L51.82,417.50L52.37,417.39L52.92,417.36L53.47,417.33L54.02,417.29L54.56,417.25L55.11,417.19L55.66,417.13L56.21,417.05L56.76,416.96L57.31,416.86L57.86,416.75L58.41,416.62L58.96,416.47L59.50,416.30L60.05,416.11L60.60,415.90L61.15,415.66L61.70,415.40L62.25,415.12L62.80,414.80L63.35,414.45L63.90,414.08L64.45,413.66L65.00,413.22L65.54,412.73L66.09,412.21L66.64,411.65L67.19,411.05L67.74,410.41L68.29,409.72L68.84,408.99L69.39,408.22L69.94,407.40L70.48,406.54L71.03,405.62L71.58,404.67L72.13,403.66L72.68,402.61L73.23,401.51L73.78,400.36L74.33,399.17L74.88,397.93L75.43,396.64L75.97,395.31L76.52,393.93L77.07,392.51L77.62,391.04L78.17,389.54L78.72,387.99L79.27,386.40L79.82,384.78L80.37,383.12L80.92,381.42L81.47,379.69L82.01,377.93L82.56,376.14L83.11,374.32L83.66,372.47L84.21,370.60L84.76,368.71L85.31,366.80L85.86,364.86L86.41,362.91L86.95,360.95L87.50,358.97L88.05,356.99L88.60,354.99L89.15,352.99L89.70,350.98L90.25,348.97L90.80,346.96L91.35,344.95L91.90,342.94L92.45,340.93L92.99,338.94L93.54,336.95L94.09,334.97L94.64,333.00L95.19,331.04L95.74,329.10L96.29,327.17L96.84,325.26L97.39,323.37L97.94,321.50L98.48,319.65L99.03,317.82L99.58,316.01L100.13,314.23L100.68,312.47L101.23,310.73L101.78,309.03L102.33,307.35L102.88,305.69L103.42,304.07L103.97,302.47L104.52,300.90L105.07,299.36L105.62,297.86L106.17,296.38L106.72,294.93L107.27,293.51L107.82,292.12L108.37,290.77L108.92,289.44L109.46,288.15L110.01,286.88L110.56,285.65L111.11,284.44L111.66,283.27L112.21,282.13L112.76,281.01L113.31,279.93L113.86,278.87L114.41,277.85L114.95,276.85L115.50,275.88L116.05,274.94L116.60,274.03L117.15,273.14L117.70,272.28L118.25,271.45L118.80,270.64L119.35,269.86L119.90,269.10L120.44,268.37L120.99,267.66L121.54,266.97L122.09,266.31L122.64,265.67L123.19,265.05L123.74,264.45L124.29,263.88L124.84,263.32L125.39,262.78L125.93,262.26L126.48,261.76L127.03,261.28L127.58,260.82L128.13,260.37L128.68,259.94L129.23,259.53L129.78,259.13L130.33,258.75L130.88,258.38L131.42,258.03L131.97,257.69L132.52,257.37L133.07,257.05L133.62,256.75L134.17,256.46L134.72,256.19L135.27,255.92L135.82,255.67L136.37,255.43L136.91,255.19L137.46,254.97L138.01,254.75L138.56,254.55L139.11,254.35L139.66,254.17L140.21,253.99L140.76,253.81L141.31,253.65L141.86,253.49L142.40,253.34L142.95,253.20L143.50,253.06L144.05,252.93L144.60,252.81L145.15,252.69L145.70,252.58L146.25,252.47L146.80,252.36L147.34,252.27L147.89,252.17L148.44,252.08L148.99,252.00L149.54,251.92L150.09,251.84L150.64,251.77L151.19,251.70L151.74,251.63L152.29,251.56L152.84,251.50L153.38,251.45L153.93,251.39L154.48,251.34L155.03,251.29L155.58,251.24L156.13,251.20L156.68,251.16L157.23,251.12L157.78,251.08L158.32,251.04L158.87,251.01L159.42,250.98L159.97,250.95L160.52,250.92L161.07,250.89L161.62,250.86L162.17,250.84L162.72,250.81L163.27,250.79L163.81,250.77L164.36,250.75L164.91,250.73L165.46,250.71L166.01,250.70L166.56,250.68L167.11,250.66L167.66,250.65L168.21,250.64L168.76,250.62L169.31,250.61L169.85,250.60L170.40,250.59L170.95,250.58L171.50,250.56L172.05,250.56L172.60,250.55L173.15,250.54L173.70,250.54L174.25,250.53L174.80,250.52L175.34,250.51L175.89,250.51L176.44,250.50L176.99,250.49L177.54,250.49L178.09,250.40L178.64,250.40L179.19,250.40L179.74,250.40L180.29,250.40L180.83,250.40L181.38,250.40L181.93,250.40L182.48,250.40L183.03,250.40L183.58,250.40L184.13,250.40L184.68,250.40L185.23,250.40L185.78,250.40L186.32,250.40L186.87,250.40L187.42,250.40L187.97,250.40L188.52,250.40L189.07,250.40L189.62,250.40L190.17,250.40L190.72,250.40L191.27,250.40L191.81,250.40L192.36,250.40L192.91,250.40L193.46,250.40L194.01,250.40L194.56,250.40L195.11,250.40L195.66,250.40L196.21,250.40L196.75,250.40L197.30,250.40L197.85,250.40L198.40,250.40L198.95,250.40L199.50,250.40L200.05,250.40L200.60,250.40L201.15,250.40L201.70,250.40L202.25,250.40L202.79,250.40L203.34,250.40L203.89,250.40L204.44,250.40L204.99,250.40L205.54,250.40L206.09,250.40L206.64,250.40L207.19,250.40L207.74,250.40L208.28,250.40L208.83,250.40L209.38,250.40L209.93,250.40L210.48,250.40L211.03,250.40L211.58,250.40L212.13,250.40L212.68,250.40L213.23,250.40L213.77,250.40L214.32,250.40L214.87,250.40L215.42,250.40L215.97,250.40L216.52,250.40L217.07,250.40L217.62,250.40L218.17,250.40L218.72,250.40L219.26,250.40L219.81,250.40L220.36,250.40L220.91,250.40L221.46,250.40L222.01,250.40L222.56,250.40L223.11,250.40L223.66,250.40L224.21,250.40L224.75,250.40L225.30,250.40L225.85,250.40L226.40,250.40L226.95,250.40L227.50,250.40L228.05,250.40L228.60,250.40L229.15,250.40L229.69,250.40L230.24,250.40L230.79,250.40L231.34,250.40L231.89,250.40L232.44,250.40L232.99,250.40L233.54,250.40L234.09,250.40L234.64,250.40L235.19,250.40L235.73,250.40L236.28,250.40L236.83,250.40L237.38,250.40L237.93,250.40L238.48,250.40L239.03,250.40L239.58,250.40L240.13,250.40L240.68,250.40L241.22,250.40L241.77,250.40L242.32,250.40L242.87,250.40L243.42,250.40L243.97,250.40L244.52,250.40L245.07,250.40L245.62,250.40L246.17,250.40L246.71,250.40L247.26,250.40L247.81,250.40L248.36,250.40L248.91,250.40L249.46,250.40L250.01,250.40L250.56,250.40L251.11,250.40L251.66,250.40L252.20,250.40L252.75,250.40L253.30,250.40L253.85,250.40L254.40,250.40" fill="none" stroke="#333" stroke-width="0.7"/>
<path d="M34.80,417.50L35.35,417.50L35.90,417.50L36.45,417.50L37.00,417.50L37.54,417.50L38.09,417.50L38.64,417.50L39.19,417.50L39.74,417.50L40.29,417.50L40.84,417.50L41.39,417.50L41.94,417.50L42.49,417.50L43.03,417.50L43.58,417.50L44.13,417.50L44.68,417.50L45.23,417.50L45.78,417.50L46.33,417.50L46.88,417.50L47.43,417.50L47.98,417.50L48.52,417.50L49.07,417.50L49.62,417.50L50.17,417.50L50.72,417.50L51.27,417.50L51.82,417.50L52.37,417.50L52.92,417.50L53.47,417.50L54.02,417.50L54.56,417.50L55.11,417.50L55.66,417.50L56.21,417.50L56.76,417.50L57.31,417.50L57.86,417.50L58.41,417.50L58.96,417.50L59.50,417.50L60.05,417.50L60.60,417.50L61.15,417.50L61.70,417.50L62.25,417.50L62.80,417.50L63.35,417.50L63.90,417.50L64.45,417.50L65.00,417.50L65.54,417.50L66.09,417.50L66.64,417.50L67.19,417.50L67.74,417.50L68.29,417.50L68.84,417.50L69.39,417.50L69.94,417.50L70.48,417.50L71.03,417.50L71.58,417.50L72.13,417.50L72.68,417.50L73.23,417.50L73.78,417.50L74.33,417.50L74.88,417.50L75.43,417.40L75.97,417.36L76.52,417.33L77.07,417.28L77.62,417.22L78.17,417.15L78.72,417.07L79.27,416.98L79.82,416.87L80.37,416.75L80.92,416.61L81.47,416.45L82.01,416.28L82.56,416.08L83.11,415.87L83.66,415.63L84.21,415.37L84.76,415.09L85.31,414.78L85.86,414.45L86.41,414.09L86.95,413.70L87.50,413.29L88.05,412.84L88.60,412.37L89.15,411.87L89.70,411.34L90.25,410.77L90.80,410.18L91.35,409.56L91.90,408.90L92.45,408.22L92.99,407.50L93.54,406.75L94.09,405.98L94.64,405.17L95.19,404.32L95.74,403.45L96.29,402.55L96.84,401.62L97.39,400.66L97.94,399.67L98.48,398.65L99.03,397.61L99.58,396.53L100.13,395.44L100.68,394.31L101.23,393.16L101.78,391.98L102.33,390.78L102.88,389.56L103.42,388.32L103.97,387.05L104.52,385.77L105.07,384.46L105.62,383.14L106.17,381.80L106.72,380.44L107.27,379.06L107.82,377.68L108.37,376.27L108.92,374.86L109.46,373.43L110.01,371.99L110.56,370.54L111.11,369.08L111.66,367.61L112.21,366.14L112.76,364.65L113.31,363.17L113.86,361.67L114.41,360.18L114.95,358.68L115.50,357.18L116.05,355.67L116.60,354.17L117.15,352.67L117.70,351.17L118.25,349.67L118.80,348.17L119.35,346.67L119.90,345.18L120.44,343.70L120.99,342.21L121.54,340.74L122.09,339.27L122.64,337.81L123.19,336.36L123.74,334.91L124.29,333.48L124.84,332.05L125.39,330.63L125.93,329.22L126.48,327.83L127.03,326.44L127.58,325.07L128.13,323.71L128.68,322.36L129.23,321.02L129.78,319.70L130.33,318.39L130.88,317.09L131.42,315.81L131.97,314.54L132.52,313.29L133.07,312.05L133.62,310.82L134.17,309.61L134.72,308.42L135.27,307.24L135.82,306.08L136.37,304.93L136.91,303.80L137.46,302.68L138.01,301.58L138.56,300.49L139.11,299.42L139.66,298.37L140.21,297.33L140.76,296.31L141.31,295.31L141.86,294.32L142.40,293.34L142.95,292.38L143.50,291.44L144.05,290.52L144.60,289.61L145.15,288.71L145.70,287.83L146.25,286.97L146.80,286.12L147.34,285.29L147.89,284.47L148.44,283.66L148.99,282.88L149.54,282.10L150.09,281.34L150.64,280.60L151.19,279.87L151.74,279.16L152.29,278.45L152.84,277.77L153.38,277.09L153.93,276.43L154.48,275.79L155.03,275.15L155.58,274.53L156.13,273.93L156.68,273.33L157.23,272.75L157.78,272.18L158.32,271.62L158.87,271.08L159.42,270.55L159.97,270.02L160.52,269.51L161.07,269.02L161.62,268.53L162.17,268.05L162.72,267.59L163.27,267.13L163.81,266.69L164.36,266.25L164.91,265.83L165.46,265.42L166.01,265.01L166.56,264.62L167.11,264.23L167.66,263.85L168.21,263.49L168.76,263.13L169.31,262.78L169.85,262.44L170.40,262.11L170.95,261.78L171.50,261.47L172.05,261.16L172.60,260.86L173.15,260.56L173.70,260.28L174.25,260.00L174.80,259.73L175.34,259.46L175.89,259.20L176.44,258.95L176.99,258.71L177.54,258.47L178.09,258.24L178.64,258.01L179.19,257.79L179.74,257.58L180.29,257.37L180.83,257.17L181.38,256.97L181.93,256.78L182.48,256.59L183.03,256.41L183.58,256.23L184.13,256.06L184.68,255.89L185.23,255.73L185.78,255.57L186.32,255.41L186.87,255.26L187.42,255.12L187.97,254.98L188.52,254.84L189.07,254.71L189.62,254.58L190.17,254.45L190.72,254.33L191.27,254.21L191.81,254.09L192.36,253.98L192.91,253.87L193.46,253.76L194.01,253.66L194.56,253.56L195.11,253.46L195.66,253.37L196.21,253.27L196.75,253.19L197.30,253.10L197.85,253.01L198.40,252.93L198.95,252.85L199.50,252.78L200.05,252.70L200.60,252.63L201.15,252.56L201.70,252.49L202.25,252.43L202.79,252.36L203.34,252.30L203.89,252.24L204.44,252.18L204.99,252.12L205.54,252.07L206.09,252.02L206.64,251.96L207.19,251.91L207.74,251.87L208.28,251.82L208.83,251.77L209.38,251.73L209.93,251.69L210.48,251.64L211.03,251.60L211.58,251.56L212.13,251.53L212.68,251.49L213.23,251.45L213.77,251.42L214.32,251.39L214.87,251.35L215.42,251.32L215.97,251.29L216.52,251.26L217.07,251.23L217.62,251.21L218.17,251.18L218.72,251.15L219.26,251.13L219.81,251.11L220.36,251.08L220.91,251.06L221.46,251.04L222.01,251.02L222.56,251.00L223.11,250.98L223.66,250.96L224.21,250.94L224.75,250.92L225.30,250.90L225.85,250.89L226.40,250.87L226.95,250.85L227.50,250.84L228.05,250.82L228.60,250.81L229.15,250.80L229.69,250.78L230.24,250.77L230.79,250.76L231.34,250.74L231.89,250.73L232.44,250.72L232.99,250.71L233.54,250.70L234.09,250.69L234.64,250.68L235.19,250.67L235.73,250.66L236.28,250.65L236.83,250.64L237.38,250.64L237.93,250.63L238.48,250.62L239.03,250.61L239.58,250.61L240.13,250.60L240.68,250.59L241.22,250.59L241.77,250.58L242.32,250.57L242.87,250.57L243.42,250.56L243.97,250.56L244.52,250.55L245.07,250.55L245.62,250.54L246.17,250.54L246.71,250.54L247.26,250.53L247.81,250.53L248.36,250.52L248.91,250.52L249.46,250.51L250.01,250.51L250.56,250.50L251.11,250.50L251.66,250.50L252.20,250.49L252.75,250.49L253.30,250.40L253.85,250.40L254.40,250.40" fill="none" stroke="#333" stroke-width="0.7"/>
<path d="M34.80,417.50L35.35,417.50L35.90,417.50L36.45,417.50L37.00,417.50L37.54,417.50L38.09,417.50L38.64,417.50L39.19,417.50L39.74,417.50L40.29,417.50L40.84,417.50L41.39,417.50L41.94,417.50L42.49,417.50L43.03,417.50L43.58,417.50L44.13,417.50L44.68,417.50L45.23,417.50L45.78,417.50L46.33,417.50L46.88,417.50L47.43,417.50L47.98,417.50L48.52,417.50L49.07,417.50L49.62,417.50L50.17,417.50L50.72,417.50L51.27,417.50L51.82,417.50L52.37,417.50L52.92,417.50L53.47,417.50L54.02,417.50L54.56,417.50L55.11,417.50L55.66,417.50L56.21,417.50L56.76,417.50L57.31,417.50L57.86,417.50L58.41,417.50L58.96,417.50L59.50,417.50L60.05,417.50L60.60,417.50L61.15,417.50L61.70,417.50L62.25,417.50L62.80,417.50L63.35,417.50L63.90,417.50L64.45,417.50L65.00,417.50L65.54,417.50L66.09,417.50L66.64,417.50L67.19,417.50L67.74,417.50L68.29,417.50L68.84,417.50L69.39,417.50L69.94,417.50L70.48,417.50L71.03,417.50L71.58,417.50L72.13,417.50L72.68,417.50L73.23,417.50L73.78,417.50L74.33,417.50L74.88,417.50L75.43,417.50L75.97,417.50L76.52,417.50L77.07,417.50L77.62,417.50L78.17,417.50L78.72,417.50L79.27,417.50L79.82,417.50L80.37,417.50L80.92,417.50L81.47,417.50L82.01,417.50L82.56,417.50L83.11,417.50L83.66,417.50L84.21,417.50L84.76,417.50L85.31,417.50L85.86,417.50L86.41,417.50L86.95,417.50L87.50,417.50L88.05,417.50L88.60,417.50L89.15,417.50L89.70,417.50L90.25,417.50L90.80,417.50L91.35,417.50L91.90,417.50L92.45,417.50L92.99,417.50L93.54,417.50L94.09,417.50L94.64,417.50L95.19,417.50L95.74,417.50L96.29,417.50L96.84,417.50L97.39,417.50L97.94,417.50L98.48,417.50L99.03,417.50L99.58,417.50L100.13,417.50L100.68,417.40L101.23,417.37L101.78,417.34L102.33,417.30L102.88,417.26L103.42,417.21L103.97,417.15L104.52,417.08L105.07,417.00L105.62,416.92L106.17,416.82L106.72,416.71L107.27,416.59L107.82,416.45L108.37,416.30L108.92,416.14L109.46,415.97L110.01,415.77L110.56,415.57L111.11,415.34L111.66,415.10L112.21,414.84L112.76,414.57L113.31,414.27L113.86,413.96L114.41,413.63L114.95,413.28L115.50,412.90L116.05,412.51L116.60,412.10L117.15,411.66L117.70,411.21L118.25,410.73L118.80,410.24L119.35,409.72L119.90,409.18L120.44,408.61L120.99,408.03L121.54,407.42L122.09,406.80L122.64,406.15L123.19,405.48L123.74,404.79L124.29,404.08L124.84,403.34L125.39,402.59L125.93,401.81L126.48,401.02L127.03,400.20L127.58,399.37L128.13,398.51L128.68,397.64L129.23,396.75L129.78,395.84L130.33,394.91L130.88,393.97L131.42,393.00L131.97,392.02L132.52,391.03L133.07,390.02L133.62,388.99L134.17,387.95L134.72,386.90L135.27,385.83L135.82,384.74L136.37,383.65L136.91,382.54L137.46,381.42L138.01,380.29L138.56,379.15L139.11,378.00L139.66,376.84L140.21,375.68L140.76,374.50L141.31,373.31L141.86,372.12L142.40,370.92L142.95,369.71L143.50,368.50L144.05,367.29L144.60,366.06L145.15,364.84L145.70,363.61L146.25,362.38L146.80,361.14L147.34,359.90L147.89,358.66L148.44,357.42L148.99,356.18L149.54,354.94L150.09,353.70L150.64,352.46L151.19,351.21L151.74,349.98L152.29,348.74L152.84,347.50L153.38,346.27L153.93,345.04L154.48,343.82L155.03,342.59L155.58,341.38L156.13,340.16L156.68,338.95L157.23,337.75L157.78,336.55L158.32,335.36L158.87,334.17L159.42,332.99L159.97,331.82L160.52,330.65L161.07,329.49L161.62,328.34L162.17,327.20L162.72,326.06L163.27,324.93L163.81,323.81L164.36,322.70L164.91,321.60L165.46,320.50L166.01,319.42L166.56,318.34L167.11,317.27L167.66,316.22L168.21,315.17L168.76,314.13L169.31,313.10L169.85,312.09L170.40,311.08L170.95,310.08L171.50,309.09L172.05,308.12L172.60,307.15L173.15,306.19L173.70,305.25L174.25,304.31L174.80,303.39L175.34,302.48L175.89,301.57L176.44,300.68L176.99,299.80L177.54,298.93L178.09,298.07L178.64,297.22L179.19,296.38L179.74,295.56L180.29,294.74L180.83,293.94L181.38,293.14L181.93,292.36L182.48,291.58L183.03,290.82L183.58,290.07L184.13,289.33L184.68,288.60L185.23,287.88L185.78,287.17L186.32,286.47L186.87,285.78L187.42,285.10L187.97,284.43L188.52,283.77L189.07,283.12L189.62,282.49L190.17,281.86L190.72,281.24L191.27,280.63L191.81,280.03L192.36,279.44L192.91,278.86L193.46,278.29L194.01,277.73L194.56,277.18L195.11,276.64L195.66,276.10L196.21,275.58L196.75,275.06L197.30,274.56L197.85,274.06L198.40,273.57L198.95,273.09L199.50,272.62L200.05,272.15L200.60,271.70L201.15,271.25L201.70,270.81L202.25,270.38L202.79,269.95L203.34,269.54L203.89,269.13L204.44,268.73L204.99,268.33L205.54,267.95L206.09,267.57L206.64,267.19L207.19,266.83L207.74,266.47L208.28,266.12L208.83,265.78L209.38,265.44L209.93,265.11L210.48,264.78L211.03,264.46L211.58,264.15L212.13,263.84L212.68,263.54L213.23,263.25L213.77,262.96L214.32,262.68L214.87,262.40L215.42,262.13L215.97,261.86L216.52,261.60L217.07,261.35L217.62,261.10L218.17,260.85L218.72,260.61L219.26,260.38L219.81,260.15L220.36,259.92L220.91,259.70L221.46,259.49L222.01,259.27L222.56,259.07L223.11,258.87L223.66,258.67L224.21,258.47L224.75,258.28L225.30,258.10L225.85,257.92L226.40,257.74L226.95,257.56L227.50,257.39L228.05,257.23L228.60,257.06L229.15,256.91L229.69,256.75L230.24,256.60L230.79,256.45L231.34,256.30L231.89,256.16L232.44,256.02L232.99,255.88L233.54,255.75L234.09,255.62L234.64,255.49L235.19,255.37L235.73,255.25L236.28,255.13L236.83,255.01L237.38,254.90L237.93,254.79L238.48,254.68L239.03,254.58L239.58,254.47L240.13,254.37L240.68,254.27L241.22,254.18L241.77,254.08L242.32,253.99L242.87,253.90L243.42,253.81L243.97,253.73L244.52,253.64L245.07,253.56L245.62,253.48L246.17,253.41L246.71,253.33L247.26,253.26L247.81,253.18L248.36,253.11L248.91,253.04L249.46,252.98L250.01,252.91L250.56,252.85L251.11,252.78L251.66,252.72L252.20,252.66L252.75,252.61L253.30,252.55L253.85,252.49L254.40,252.44" fill="none" stroke="#333" stroke-width="0.7"/>
<text x="34.80" y="430.50" font-family='"Liberation Sans", sans-serif' font-size="9.3" text-anchor="middle" font-weight="normal" font-style="normal" fill="#262626" >0</text>
<text x="89.70" y="430.50" font-family='"Liberation Sans", sans-serif' font-size="9.3" text-anchor="middle" font-weight="normal" font-style="normal" fill="#262626" >50</text>
<text x="144.60" y="430.50" font-family='"Liberation Sans", sans-serif' font-size="9.3" text-anchor="middle" font-weight="normal" font-style="normal" fill="#262626" >100</text>
<text x="199.50" y="430.50" font-family='"Liberation Sans", sans-serif' font-size="9.3" text-anchor="middle" font-weight="normal" font-style="normal" fill="#262626" >150</text>
<text x="254.40" y="430.50" font-family='"Liberation Sans", sans-serif' font-size="9.3" text-anchor="middle" font-weight="normal" font-style="normal" fill="#262626" >200</text>
<text x="31.50" y="420.80" font-family='"Liberation Sans", sans-serif' font-size="9.3" text-anchor="end" font-weight="normal" font-style="normal" fill="#262626" >0</text>
<text x="31.50" y="387.38" font-family='"Liberation Sans", sans-serif' font-size="9.3" text-anchor="end" font-weight="normal" font-style="normal" fill="#262626" >0.2</text>
<text x="31.50" y="353.96" font-family='"Liberation Sans", sans-serif' font-size="9.3" text-anchor="end" font-weight="normal" font-style="normal" fill="#262626" >0.4</text>
<text x="31.50" y="320.54" font-family='"Liberation Sans", sans-serif' font-size="9.3" text-anchor="end" font-weight="normal" font-style="normal" fill="#262626" >0.6</text>
<text x="31.50" y="287.12" font-family='"Liberation Sans", sans-serif' font-size="9.3" text-anchor="end" font-weight="normal" font-style="normal" fill="#262626" >0.8</text>
<text x="31.50" y="253.70" font-family='"Liberation Sans", sans-serif' font-size="9.3" text-anchor="end" font-weight="normal" font-style="normal" fill="#262626" >1</text>
<rect x="166.10" y="364.00" width="82.30" height="47.60" fill="#fff" stroke="#9a9a9a" stroke-width="0.9"/>
<circle cx="178.40" cy="370.50" r="2.45" fill="none" stroke="#ff0000" stroke-width="0.75"/>
<rect x="176.10" y="379.50" width="4.6" height="4.6" fill="none" stroke="#5050ff" stroke-width="0.55"/>
<path d="M178.40,390.30l2.4,2.8l-2.4,2.8l-2.4,-2.8z" fill="none" stroke="#00e000" stroke-width="0.75"/>
<path d="M168.50,405.00H188.00" stroke="#333" stroke-width="0.7"/>
<text x="190.10" y="373.90" font-family='"Liberation Serif", serif' font-size="10" fill="#000" stroke="#000" stroke-width="0.15">(sim.)<tspan x="219.10" font-style="italic">L</tspan><tspan x="226.50">=</tspan><tspan x="234.70" font-size="10.8">16</tspan></text>
<text x="190.10" y="385.20" font-family='"Liberation Serif", serif' font-size="10" fill="#000" stroke="#000" stroke-width="0.15">(sim.)<tspan x="219.10" font-style="italic">L</tspan><tspan x="226.50">=</tspan><tspan x="234.70" font-size="10.8">20</tspan></text>
<text x="190.10" y="396.50" font-family='"Liberation Serif", serif' font-size="10" fill="#000" stroke="#000" stroke-width="0.15">(sim.)<tspan x="219.10" font-style="italic">L</tspan><tspan x="226.50">=</tspan><tspan x="234.70" font-size="10.8">24</tspan></text>
<text x="190.10" y="408.40" font-family='"Liberation Serif", serif' font-size="10" fill="#000" stroke="#000" stroke-width="0.15">Analytical</text>
<text x="144.60" y="443.70" font-family='"Liberation Sans", sans-serif' font-size="10.3" text-anchor="middle" font-weight="normal" font-style="normal" fill="#262626" >Input (x)</text>
<text x="13.60" y="333.95" font-family='"Liberation Sans", sans-serif' font-size="10.3" text-anchor="middle" font-weight="normal" font-style="normal" fill="#262626" transform="rotate(-90 13.6 333.95)">Cumulative Distribution Function (CDF)</text>
<text x="144.60" y="246.10" font-family='"Liberation Sans", sans-serif' font-size="10.25" text-anchor="middle" font-weight="bold" font-style="normal" fill="#000" >Nakagami-m Fading Enviroment</text>
<text x="126.00" y="464.10" font-family='"Liberation Serif", serif' font-size="14.5" text-anchor="middle" fill="#000">(<tspan font-weight="bold">c</tspan>)</text>
<rect x="321.60" y="250.40" width="219.20" height="167.70" fill="#fff"/>
<path d="M321.60,250.40H540.80V418.10H321.60ZM321.60,418.10v-2.2M321.60,250.40v2.2M365.44,418.10v-2.2M365.44,250.40v2.2M409.28,418.10v-2.2M409.28,250.40v2.2M453.12,418.10v-2.2M453.12,250.40v2.2M496.96,418.10v-2.2M496.96,250.40v2.2M540.80,418.10v-2.2M540.80,250.40v2.2M321.60,418.10h2.2M540.80,418.10h-2.2M321.60,362.20h2.2M540.80,362.20h-2.2M321.60,306.30h2.2M540.80,306.30h-2.2M321.60,250.40h2.2M540.80,250.40h-2.2" fill="none" stroke="#9a9a9a" stroke-width="0.9"/>
<path d="M321.60,418.10V317.93H330.37V418.10M330.37,418.10V337.83H339.14V418.10M339.14,418.10V350.80H347.90V418.10M347.90,418.10V360.86H356.67V418.10M356.67,418.10V374.16H365.44V418.10M365.44,418.10V381.21H374.21V418.10M374.21,418.10V388.03H382.98V418.10M382.98,418.10V395.40H391.74V418.10M391.74,418.10V397.31H400.51V418.10M400.51,418.10V400.44H409.28V418.10M409.28,418.10V404.24H418.05V418.10M418.05,418.10V407.93H426.82V418.10M426.82,418.10V410.05H435.58V418.10M435.58,418.10V411.28H444.35V418.10M444.35,418.10V412.73H453.12V418.10M453.12,418.10V413.85H461.89V418.10M461.89,418.10V414.86H470.66V418.10M470.66,418.10V414.75H479.42V418.10M479.42,418.10V415.53H488.19V418.10M488.19,418.10V415.53H496.96V418.10M496.96,418.10V416.09H505.73V418.10M505.73,418.10V416.42H514.50V418.10M514.50,418.10V417.09H523.26V418.10M523.26,418.10V417.21H532.03V418.10M532.03,418.10V417.54H540.80V418.10" fill="#63a6d6" stroke="#3a5f78" stroke-width="0.7"/>
<path d="M321.60,309.10L322.70,311.72L323.79,314.28L324.89,316.78L325.98,319.22L327.08,321.60L328.18,323.93L329.27,326.19L330.37,328.41L331.46,330.57L332.56,332.67L333.66,334.73L334.75,336.74L335.85,338.70L336.94,340.61L338.04,342.48L339.14,344.30L340.23,346.07L341.33,347.81L342.42,349.50L343.52,351.15L344.62,352.77L345.71,354.34L346.81,355.87L347.90,357.37L349.00,358.84L350.10,360.26L351.19,361.65L352.29,363.01L353.38,364.34L354.48,365.64L355.58,366.90L356.67,368.13L357.77,369.33L358.86,370.51L359.96,371.66L361.06,372.77L362.15,373.86L363.25,374.93L364.34,375.97L365.44,376.98L366.54,377.97L367.63,378.94L368.73,379.88L369.82,380.80L370.92,381.70L372.02,382.58L373.11,383.43L374.21,384.27L375.30,385.08L376.40,385.88L377.50,386.65L378.59,387.41L379.69,388.15L380.78,388.87L381.88,389.58L382.98,390.26L384.07,390.93L385.17,391.59L386.26,392.23L387.36,392.85L388.46,393.46L389.55,394.05L390.65,394.63L391.74,395.19L392.84,395.75L393.94,396.28L395.03,396.81L396.13,397.32L397.22,397.82L398.32,398.31L399.42,398.79L400.51,399.25L401.61,399.71L402.70,400.15L403.80,400.58L404.90,401.00L405.99,401.41L407.09,401.82L408.18,402.21L409.28,402.59L410.38,402.96L411.47,403.33L412.57,403.69L413.66,404.03L414.76,404.37L415.86,404.70L416.95,405.02L418.05,405.34L419.14,405.65L420.24,405.95L421.34,406.24L422.43,406.52L423.53,406.80L424.62,407.08L425.72,407.34L426.82,407.60L427.91,407.85L429.01,408.10L430.10,408.34L431.20,408.58L432.30,408.80L433.39,409.03L434.49,409.25L435.58,409.46L436.68,409.67L437.78,409.87L438.87,410.07L439.97,410.26L441.06,410.45L442.16,410.64L443.26,410.82L444.35,410.99L445.45,411.16L446.54,411.33L447.64,411.49L448.74,411.65L449.83,411.81L450.93,411.96L452.02,412.11L453.12,412.25L454.22,412.39L455.31,412.53L456.41,412.66L457.50,412.79L458.60,412.92L459.70,413.05L460.79,413.17L461.89,413.29L462.98,413.40L464.08,413.52L465.18,413.63L466.27,413.73L467.37,413.84L468.46,413.94L469.56,414.04L470.66,414.14L471.75,414.23L472.85,414.33L473.94,414.42L475.04,414.51L476.14,414.59L477.23,414.68L478.33,414.76L479.42,414.84L480.52,414.92L481.62,415.00L482.71,415.07L483.81,415.14L484.90,415.22L486.00,415.28L487.10,415.35L488.19,415.42L489.29,415.48L490.38,415.55L491.48,415.61L492.58,415.67L493.67,415.73L494.77,415.78L495.86,415.84L496.96,415.89L498.06,415.95L499.15,416.00L500.25,416.05L501.34,416.10L502.44,416.15L503.54,416.19L504.63,416.24L505.73,416.28L506.82,416.33L507.92,416.37L509.02,416.41L510.11,416.45L511.21,416.49L512.30,416.53L513.40,416.57L514.50,416.61L515.59,416.64L516.69,416.68L517.78,416.71L518.88,416.74L519.98,416.78L521.07,416.81L522.17,416.84L523.26,416.87L524.36,416.90L525.46,416.93L526.55,416.96L527.65,416.98L528.74,417.01L529.84,417.04L530.94,417.06L532.03,417.09L533.13,417.11L534.22,417.14L535.32,417.16L536.42,417.18L537.51,417.20L538.61,417.23L539.70,417.25L540.80,417.27" fill="none" stroke="#ff3030" stroke-width="0.7"/>
<text x="321.60" y="431.10" font-family='"Liberation Sans", sans-serif' font-size="9.3" text-anchor="middle" font-weight="normal" font-style="normal" fill="#262626" >0</text>
<text x="365.44" y="431.10" font-family='"Liberation Sans", sans-serif' font-size="9.3" text-anchor="middle" font-weight="normal" font-style="normal" fill="#262626" >10</text>
<text x="409.28" y="431.10" font-family='"Liberation Sans", sans-serif' font-size="9.3" text-anchor="middle" font-weight="normal" font-style="normal" fill="#262626" >20</text>
<text x="453.12" y="431.10" font-family='"Liberation Sans", sans-serif' font-size="9.3" text-anchor="middle" font-weight="normal" font-style="normal" fill="#262626" >30</text>
<text x="496.96" y="431.10" font-family='"Liberation Sans", sans-serif' font-size="9.3" text-anchor="middle" font-weight="normal" font-style="normal" fill="#262626" >40</text>
<text x="540.80" y="431.10" font-family='"Liberation Sans", sans-serif' font-size="9.3" text-anchor="middle" font-weight="normal" font-style="normal" fill="#262626" >50</text>
<text x="318.30" y="421.40" font-family='"Liberation Sans", sans-serif' font-size="9.3" text-anchor="end" font-weight="normal" font-style="normal" fill="#262626" >0</text>
<text x="318.30" y="365.50" font-family='"Liberation Sans", sans-serif' font-size="9.3" text-anchor="end" font-weight="normal" font-style="normal" fill="#262626" >0.05</text>
<text x="318.30" y="309.60" font-family='"Liberation Sans", sans-serif' font-size="9.3" text-anchor="end" font-weight="normal" font-style="normal" fill="#262626" >0.1</text>
<text x="318.30" y="253.70" font-family='"Liberation Sans", sans-serif' font-size="9.3" text-anchor="end" font-weight="normal" font-style="normal" fill="#262626" >0.15</text>
<rect x="453.00" y="255.60" width="82.50" height="24.80" fill="#fff" stroke="#9a9a9a" stroke-width="0.9"/>
<rect x="455.3" y="257.70" width="20.4" height="8.2" fill="#63a6d6" stroke="#3a5f78" stroke-width="0.7"/>
<path d="M455.3,273.30H475.3" stroke="#ff3030" stroke-width="0.7"/>
<text x="477.20" y="265.20" font-family='"Liberation Serif", serif' font-size="10" fill="#000" stroke="#000" stroke-width="0.15">(sim.)<tspan x="506.20" font-style="italic">L</tspan><tspan x="513.60">=</tspan><tspan x="521.80" font-size="10.8">20</tspan></text>
<text x="477.20" y="276.70" font-family='"Liberation Serif", serif' font-size="10" fill="#000" stroke="#000" stroke-width="0.15">Analytical</text>
<text x="431.20" y="444.30" font-family='"Liberation Sans", sans-serif' font-size="10.3" text-anchor="middle" font-weight="normal" font-style="normal" fill="#262626" >Input (x)</text>
<text x="297.00" y="334.25" font-family='"Liberation Sans", sans-serif' font-size="10.3" text-anchor="middle" font-weight="normal" font-style="normal" fill="#262626" transform="rotate(-90 297 334.25)">Probability Density Function (PDF)</text>
<text x="431.20" y="247.50" font-family='"Liberation Sans", sans-serif' font-size="10.25" text-anchor="middle" font-weight="bold" font-style="normal" fill="#000" >Nakagami-m Fading Enviroment</text>
<text x="439.60" y="464.70" font-family='"Liberation Serif", serif' font-size="14.5" text-anchor="middle" fill="#000">(<tspan font-weight="bold">d</tspan>)</text>
<rect x="34.80" y="485.20" width="219.60" height="167.10" fill="#fff"/>
<path d="M34.80,485.20H254.40V652.30H34.80ZM34.80,652.30v-2.2M34.80,485.20v2.2M89.70,652.30v-2.2M89.70,485.20v2.2M144.60,652.30v-2.2M144.60,485.20v2.2M199.50,652.30v-2.2M199.50,485.20v2.2M254.40,652.30v-2.2M254.40,485.20v2.2M34.80,652.30h2.2M254.40,652.30h-2.2M34.80,618.88h2.2M254.40,618.88h-2.2M34.80,585.46h2.2M254.40,585.46h-2.2M34.80,552.04h2.2M254.40,552.04h-2.2M34.80,518.62h2.2M254.40,518.62h-2.2M34.80,485.20h2.2M254.40,485.20h-2.2" fill="none" stroke="#9a9a9a" stroke-width="0.9"/>
<path d="M32.35,652.30a2.45,2.45 0 1,0 4.9,0a2.45,2.45 0 1,0 -4.9,0M34.55,652.30a2.45,2.45 0 1,0 4.9,0a2.45,2.45 0 1,0 -4.9,0M36.74,652.30a2.45,2.45 0 1,0 4.9,0a2.45,2.45 0 1,0 -4.9,0M38.94,652.30a2.45,2.45 0 1,0 4.9,0a2.45,2.45 0 1,0 -4.9,0M41.13,652.30a2.45,2.45 0 1,0 4.9,0a2.45,2.45 0 1,0 -4.9,0M43.33,652.30a2.45,2.45 0 1,0 4.9,0a2.45,2.45 0 1,0 -4.9,0M45.53,652.30a2.45,2.45 0 1,0 4.9,0a2.45,2.45 0 1,0 -4.9,0M47.72,652.30a2.45,2.45 0 1,0 4.9,0a2.45,2.45 0 1,0 -4.9,0M49.92,652.30a2.45,2.45 0 1,0 4.9,0a2.45,2.45 0 1,0 -4.9,0M52.11,652.30a2.45,2.45 0 1,0 4.9,0a2.45,2.45 0 1,0 -4.9,0M54.31,652.30a2.45,2.45 0 1,0 4.9,0a2.45,2.45 0 1,0 -4.9,0M56.51,652.30a2.45,2.45 0 1,0 4.9,0a2.45,2.45 0 1,0 -4.9,0M58.70,652.30a2.45,2.45 0 1,0 4.9,0a2.45,2.45 0 1,0 -4.9,0M60.90,652.08a2.45,2.45 0 1,0 4.9,0a2.45,2.45 0 1,0 -4.9,0M63.09,651.74a2.45,2.45 0 1,0 4.9,0a2.45,2.45 0 1,0 -4.9,0M65.29,651.05a2.45,2.45 0 1,0 4.9,0a2.45,2.45 0 1,0 -4.9,0M67.49,649.86a2.45,2.45 0 1,0 4.9,0a2.45,2.45 0 1,0 -4.9,0M69.68,648.01a2.45,2.45 0 1,0 4.9,0a2.45,2.45 0 1,0 -4.9,0M71.88,645.35a2.45,2.45 0 1,0 4.9,0a2.45,2.45 0 1,0 -4.9,0M74.07,641.78a2.45,2.45 0 1,0 4.9,0a2.45,2.45 0 1,0 -4.9,0M76.27,637.23a2.45,2.45 0 1,0 4.9,0a2.45,2.45 0 1,0 -4.9,0M78.47,631.71a2.45,2.45 0 1,0 4.9,0a2.45,2.45 0 1,0 -4.9,0M80.66,625.28a2.45,2.45 0 1,0 4.9,0a2.45,2.45 0 1,0 -4.9,0M82.86,618.03a2.45,2.45 0 1,0 4.9,0a2.45,2.45 0 1,0 -4.9,0M85.05,610.11a2.45,2.45 0 1,0 4.9,0a2.45,2.45 0 1,0 -4.9,0M87.25,601.68a2.45,2.45 0 1,0 4.9,0a2.45,2.45 0 1,0 -4.9,0M89.45,592.92a2.45,2.45 0 1,0 4.9,0a2.45,2.45 0 1,0 -4.9,0M91.64,584.02a2.45,2.45 0 1,0 4.9,0a2.45,2.45 0 1,0 -4.9,0M93.84,575.13a2.45,2.45 0 1,0 4.9,0a2.45,2.45 0 1,0 -4.9,0M96.03,566.41a2.45,2.45 0 1,0 4.9,0a2.45,2.45 0 1,0 -4.9,0M98.23,557.99a2.45,2.45 0 1,0 4.9,0a2.45,2.45 0 1,0 -4.9,0M100.43,549.98a2.45,2.45 0 1,0 4.9,0a2.45,2.45 0 1,0 -4.9,0M102.62,542.45a2.45,2.45 0 1,0 4.9,0a2.45,2.45 0 1,0 -4.9,0M104.82,535.47a2.45,2.45 0 1,0 4.9,0a2.45,2.45 0 1,0 -4.9,0M107.01,529.05a2.45,2.45 0 1,0 4.9,0a2.45,2.45 0 1,0 -4.9,0M109.21,523.22a2.45,2.45 0 1,0 4.9,0a2.45,2.45 0 1,0 -4.9,0M111.41,517.98a2.45,2.45 0 1,0 4.9,0a2.45,2.45 0 1,0 -4.9,0M113.60,513.30a2.45,2.45 0 1,0 4.9,0a2.45,2.45 0 1,0 -4.9,0M115.80,509.16a2.45,2.45 0 1,0 4.9,0a2.45,2.45 0 1,0 -4.9,0M117.99,505.52a2.45,2.45 0 1,0 4.9,0a2.45,2.45 0 1,0 -4.9,0M120.19,502.36a2.45,2.45 0 1,0 4.9,0a2.45,2.45 0 1,0 -4.9,0M122.39,499.62a2.45,2.45 0 1,0 4.9,0a2.45,2.45 0 1,0 -4.9,0M124.58,497.26a2.45,2.45 0 1,0 4.9,0a2.45,2.45 0 1,0 -4.9,0M126.78,495.24a2.45,2.45 0 1,0 4.9,0a2.45,2.45 0 1,0 -4.9,0M128.97,493.53a2.45,2.45 0 1,0 4.9,0a2.45,2.45 0 1,0 -4.9,0M131.17,492.08a2.45,2.45 0 1,0 4.9,0a2.45,2.45 0 1,0 -4.9,0M133.37,490.87a2.45,2.45 0 1,0 4.9,0a2.45,2.45 0 1,0 -4.9,0M135.56,489.85a2.45,2.45 0 1,0 4.9,0a2.45,2.45 0 1,0 -4.9,0M137.76,489.00a2.45,2.45 0 1,0 4.9,0a2.45,2.45 0 1,0 -4.9,0M139.95,488.29a2.45,2.45 0 1,0 4.9,0a2.45,2.45 0 1,0 -4.9,0M142.15,487.71a2.45,2.45 0 1,0 4.9,0a2.45,2.45 0 1,0 -4.9,0M144.35,487.23a2.45,2.45 0 1,0 4.9,0a2.45,2.45 0 1,0 -4.9,0M146.54,486.84a2.45,2.45 0 1,0 4.9,0a2.45,2.45 0 1,0 -4.9,0M148.74,486.52a2.45,2.45 0 1,0 4.9,0a2.45,2.45 0 1,0 -4.9,0M150.93,486.26a2.45,2.45 0 1,0 4.9,0a2.45,2.45 0 1,0 -4.9,0M153.13,486.05a2.45,2.45 0 1,0 4.9,0a2.45,2.45 0 1,0 -4.9,0M155.33,485.88a2.45,2.45 0 1,0 4.9,0a2.45,2.45 0 1,0 -4.9,0M157.52,485.74a2.45,2.45 0 1,0 4.9,0a2.45,2.45 0 1,0 -4.9,0M159.72,485.63a2.45,2.45 0 1,0 4.9,0a2.45,2.45 0 1,0 -4.9,0M161.91,485.54a2.45,2.45 0 1,0 4.9,0a2.45,2.45 0 1,0 -4.9,0M164.11,485.47a2.45,2.45 0 1,0 4.9,0a2.45,2.45 0 1,0 -4.9,0M166.31,485.42a2.45,2.45 0 1,0 4.9,0a2.45,2.45 0 1,0 -4.9,0M168.50,485.37a2.45,2.45 0 1,0 4.9,0a2.45,2.45 0 1,0 -4.9,0M170.70,485.34a2.45,2.45 0 1,0 4.9,0a2.45,2.45 0 1,0 -4.9,0M172.89,485.31a2.45,2.45 0 1,0 4.9,0a2.45,2.45 0 1,0 -4.9,0M175.09,485.20a2.45,2.45 0 1,0 4.9,0a2.45,2.45 0 1,0 -4.9,0M177.29,485.20a2.45,2.45 0 1,0 4.9,0a2.45,2.45 0 1,0 -4.9,0M179.48,485.20a2.45,2.45 0 1,0 4.9,0a2.45,2.45 0 1,0 -4.9,0M181.68,485.20a2.45,2.45 0 1,0 4.9,0a2.45,2.45 0 1,0 -4.9,0M183.87,485.20a2.45,2.45 0 1,0 4.9,0a2.45,2.45 0 1,0 -4.9,0M186.07,485.20a2.45,2.45 0 1,0 4.9,0a2.45,2.45 0 1,0 -4.9,0M188.27,485.20a2.45,2.45 0 1,0 4.9,0a2.45,2.45 0 1,0 -4.9,0M190.46,485.20a2.45,2.45 0 1,0 4.9,0a2.45,2.45 0 1,0 -4.9,0M192.66,485.20a2.45,2.45 0 1,0 4.9,0a2.45,2.45 0 1,0 -4.9,0M194.85,485.20a2.45,2.45 0 1,0 4.9,0a2.45,2.45 0 1,0 -4.9,0M197.05,485.20a2.45,2.45 0 1,0 4.9,0a2.45,2.45 0 1,0 -4.9,0M199.25,485.20a2.45,2.45 0 1,0 4.9,0a2.45,2.45 0 1,0 -4.9,0M201.44,485.20a2.45,2.45 0 1,0 4.9,0a2.45,2.45 0 1,0 -4.9,0M203.64,485.20a2.45,2.45 0 1,0 4.9,0a2.45,2.45 0 1,0 -4.9,0M205.83,485.20a2.45,2.45 0 1,0 4.9,0a2.45,2.45 0 1,0 -4.9,0M208.03,485.20a2.45,2.45 0 1,0 4.9,0a2.45,2.45 0 1,0 -4.9,0M210.23,485.20a2.45,2.45 0 1,0 4.9,0a2.45,2.45 0 1,0 -4.9,0M212.42,485.20a2.45,2.45 0 1,0 4.9,0a2.45,2.45 0 1,0 -4.9,0M214.62,485.20a2.45,2.45 0 1,0 4.9,0a2.45,2.45 0 1,0 -4.9,0M216.81,485.20a2.45,2.45 0 1,0 4.9,0a2.45,2.45 0 1,0 -4.9,0M219.01,485.20a2.45,2.45 0 1,0 4.9,0a2.45,2.45 0 1,0 -4.9,0M221.21,485.20a2.45,2.45 0 1,0 4.9,0a2.45,2.45 0 1,0 -4.9,0M223.40,485.20a2.45,2.45 0 1,0 4.9,0a2.45,2.45 0 1,0 -4.9,0M225.60,485.20a2.45,2.45 0 1,0 4.9,0a2.45,2.45 0 1,0 -4.9,0M227.79,485.20a2.45,2.45 0 1,0 4.9,0a2.45,2.45 0 1,0 -4.9,0M229.99,485.20a2.45,2.45 0 1,0 4.9,0a2.45,2.45 0 1,0 -4.9,0M232.19,485.20a2.45,2.45 0 1,0 4.9,0a2.45,2.45 0 1,0 -4.9,0M234.38,485.20a2.45,2.45 0 1,0 4.9,0a2.45,2.45 0 1,0 -4.9,0M236.58,485.20a2.45,2.45 0 1,0 4.9,0a2.45,2.45 0 1,0 -4.9,0M238.77,485.20a2.45,2.45 0 1,0 4.9,0a2.45,2.45 0 1,0 -4.9,0M240.97,485.20a2.45,2.45 0 1,0 4.9,0a2.45,2.45 0 1,0 -4.9,0M243.17,485.20a2.45,2.45 0 1,0 4.9,0a2.45,2.45 0 1,0 -4.9,0M245.36,485.20a2.45,2.45 0 1,0 4.9,0a2.45,2.45 0 1,0 -4.9,0M247.56,485.20a2.45,2.45 0 1,0 4.9,0a2.45,2.45 0 1,0 -4.9,0M249.75,485.20a2.45,2.45 0 1,0 4.9,0a2.45,2.45 0 1,0 -4.9,0M251.95,485.20a2.45,2.45 0 1,0 4.9,0a2.45,2.45 0 1,0 -4.9,0" fill="none" stroke="#ff0000" stroke-width="0.75"/>
<path d="M32.50,650.00h4.6v4.6h-4.6zM34.70,650.00h4.6v4.6h-4.6zM36.89,650.00h4.6v4.6h-4.6zM39.09,650.00h4.6v4.6h-4.6zM41.28,650.00h4.6v4.6h-4.6zM43.48,650.00h4.6v4.6h-4.6zM45.68,650.00h4.6v4.6h-4.6zM47.87,650.00h4.6v4.6h-4.6zM50.07,650.00h4.6v4.6h-4.6zM52.26,650.00h4.6v4.6h-4.6zM54.46,650.00h4.6v4.6h-4.6zM56.66,650.00h4.6v4.6h-4.6zM58.85,650.00h4.6v4.6h-4.6zM61.05,650.00h4.6v4.6h-4.6zM63.24,650.00h4.6v4.6h-4.6zM65.44,650.00h4.6v4.6h-4.6zM67.64,650.00h4.6v4.6h-4.6zM69.83,650.00h4.6v4.6h-4.6zM72.03,650.00h4.6v4.6h-4.6zM74.22,650.00h4.6v4.6h-4.6zM76.42,650.00h4.6v4.6h-4.6zM78.62,650.00h4.6v4.6h-4.6zM80.81,650.00h4.6v4.6h-4.6zM83.01,649.85h4.6v4.6h-4.6zM85.20,649.61h4.6v4.6h-4.6zM87.40,649.17h4.6v4.6h-4.6zM89.60,648.43h4.6v4.6h-4.6zM91.79,647.32h4.6v4.6h-4.6zM93.99,645.78h4.6v4.6h-4.6zM96.18,643.74h4.6v4.6h-4.6zM98.38,641.16h4.6v4.6h-4.6zM100.58,638.04h4.6v4.6h-4.6zM102.77,634.37h4.6v4.6h-4.6zM104.97,630.18h4.6v4.6h-4.6zM107.16,625.50h4.6v4.6h-4.6zM109.36,620.38h4.6v4.6h-4.6zM111.56,614.88h4.6v4.6h-4.6zM113.75,609.06h4.6v4.6h-4.6zM115.95,603.01h4.6v4.6h-4.6zM118.14,596.78h4.6v4.6h-4.6zM120.34,590.44h4.6v4.6h-4.6zM122.54,584.07h4.6v4.6h-4.6zM124.73,577.72h4.6v4.6h-4.6zM126.93,571.45h4.6v4.6h-4.6zM129.12,565.30h4.6v4.6h-4.6zM131.32,559.32h4.6v4.6h-4.6zM133.52,553.55h4.6v4.6h-4.6zM135.71,548.00h4.6v4.6h-4.6zM137.91,542.72h4.6v4.6h-4.6zM140.10,537.70h4.6v4.6h-4.6zM142.30,532.96h4.6v4.6h-4.6zM144.50,528.51h4.6v4.6h-4.6zM146.69,524.35h4.6v4.6h-4.6zM148.89,520.47h4.6v4.6h-4.6zM151.08,516.87h4.6v4.6h-4.6zM153.28,513.55h4.6v4.6h-4.6zM155.48,510.49h4.6v4.6h-4.6zM157.67,507.69h4.6v4.6h-4.6zM159.87,505.12h4.6v4.6h-4.6zM162.06,502.78h4.6v4.6h-4.6zM164.26,500.65h4.6v4.6h-4.6zM166.46,498.72h4.6v4.6h-4.6zM168.65,496.97h4.6v4.6h-4.6zM170.85,495.40h4.6v4.6h-4.6zM173.04,493.98h4.6v4.6h-4.6zM175.24,492.71h4.6v4.6h-4.6zM177.44,491.57h4.6v4.6h-4.6zM179.63,490.55h4.6v4.6h-4.6zM181.83,489.64h4.6v4.6h-4.6zM184.02,488.83h4.6v4.6h-4.6zM186.22,488.12h4.6v4.6h-4.6zM188.42,487.48h4.6v4.6h-4.6zM190.61,486.91h4.6v4.6h-4.6zM192.81,486.41h4.6v4.6h-4.6zM195.00,485.97h4.6v4.6h-4.6zM197.20,485.58h4.6v4.6h-4.6zM199.40,485.24h4.6v4.6h-4.6zM201.59,484.94h4.6v4.6h-4.6zM203.79,484.67h4.6v4.6h-4.6zM205.98,484.44h4.6v4.6h-4.6zM208.18,484.24h4.6v4.6h-4.6zM210.38,484.06h4.6v4.6h-4.6zM212.57,483.91h4.6v4.6h-4.6zM214.77,483.77h4.6v4.6h-4.6zM216.96,483.66h4.6v4.6h-4.6zM219.16,483.55h4.6v4.6h-4.6zM221.36,483.47h4.6v4.6h-4.6zM223.55,483.39h4.6v4.6h-4.6zM225.75,483.32h4.6v4.6h-4.6zM227.94,483.26h4.6v4.6h-4.6zM230.14,483.21h4.6v4.6h-4.6zM232.34,483.17h4.6v4.6h-4.6zM234.53,483.13h4.6v4.6h-4.6zM236.73,483.10h4.6v4.6h-4.6zM238.92,483.07h4.6v4.6h-4.6zM241.12,483.05h4.6v4.6h-4.6zM243.32,483.03h4.6v4.6h-4.6zM245.51,483.01h4.6v4.6h-4.6zM247.71,482.99h4.6v4.6h-4.6zM249.90,482.90h4.6v4.6h-4.6zM252.10,482.90h4.6v4.6h-4.6z" fill="none" stroke="#5050ff" stroke-width="0.55"/>
<path d="M34.80,649.50l2.4,2.8l-2.4,2.8l-2.4,-2.8zM37.00,649.50l2.4,2.8l-2.4,2.8l-2.4,-2.8zM39.19,649.50l2.4,2.8l-2.4,2.8l-2.4,-2.8zM41.39,649.50l2.4,2.8l-2.4,2.8l-2.4,-2.8zM43.58,649.50l2.4,2.8l-2.4,2.8l-2.4,-2.8zM45.78,649.50l2.4,2.8l-2.4,2.8l-2.4,-2.8zM47.98,649.50l2.4,2.8l-2.4,2.8l-2.4,-2.8zM50.17,649.50l2.4,2.8l-2.4,2.8l-2.4,-2.8zM52.37,649.50l2.4,2.8l-2.4,2.8l-2.4,-2.8zM54.56,649.50l2.4,2.8l-2.4,2.8l-2.4,-2.8zM56.76,649.50l2.4,2.8l-2.4,2.8l-2.4,-2.8zM58.96,649.50l2.4,2.8l-2.4,2.8l-2.4,-2.8zM61.15,649.50l2.4,2.8l-2.4,2.8l-2.4,-2.8zM63.35,649.50l2.4,2.8l-2.4,2.8l-2.4,-2.8zM65.54,649.50l2.4,2.8l-2.4,2.8l-2.4,-2.8zM67.74,649.50l2.4,2.8l-2.4,2.8l-2.4,-2.8zM69.94,649.50l2.4,2.8l-2.4,2.8l-2.4,-2.8zM72.13,649.50l2.4,2.8l-2.4,2.8l-2.4,-2.8zM74.33,649.50l2.4,2.8l-2.4,2.8l-2.4,-2.8zM76.52,649.50l2.4,2.8l-2.4,2.8l-2.4,-2.8zM78.72,649.50l2.4,2.8l-2.4,2.8l-2.4,-2.8zM80.92,649.50l2.4,2.8l-2.4,2.8l-2.4,-2.8zM83.11,649.50l2.4,2.8l-2.4,2.8l-2.4,-2.8zM85.31,649.50l2.4,2.8l-2.4,2.8l-2.4,-2.8zM87.50,649.50l2.4,2.8l-2.4,2.8l-2.4,-2.8zM89.70,649.50l2.4,2.8l-2.4,2.8l-2.4,-2.8zM91.90,649.50l2.4,2.8l-2.4,2.8l-2.4,-2.8zM94.09,649.50l2.4,2.8l-2.4,2.8l-2.4,-2.8zM96.29,649.50l2.4,2.8l-2.4,2.8l-2.4,-2.8zM98.48,649.41l2.4,2.8l-2.4,2.8l-2.4,-2.8zM100.68,649.35l2.4,2.8l-2.4,2.8l-2.4,-2.8zM102.88,649.26l2.4,2.8l-2.4,2.8l-2.4,-2.8zM105.07,649.13l2.4,2.8l-2.4,2.8l-2.4,-2.8zM107.27,648.95l2.4,2.8l-2.4,2.8l-2.4,-2.8zM109.46,648.69l2.4,2.8l-2.4,2.8l-2.4,-2.8zM111.66,648.34l2.4,2.8l-2.4,2.8l-2.4,-2.8zM113.86,647.89l2.4,2.8l-2.4,2.8l-2.4,-2.8zM116.05,647.31l2.4,2.8l-2.4,2.8l-2.4,-2.8zM118.25,646.57l2.4,2.8l-2.4,2.8l-2.4,-2.8zM120.44,645.67l2.4,2.8l-2.4,2.8l-2.4,-2.8zM122.64,644.57l2.4,2.8l-2.4,2.8l-2.4,-2.8zM124.84,643.25l2.4,2.8l-2.4,2.8l-2.4,-2.8zM127.03,641.71l2.4,2.8l-2.4,2.8l-2.4,-2.8zM129.23,639.91l2.4,2.8l-2.4,2.8l-2.4,-2.8zM131.42,637.86l2.4,2.8l-2.4,2.8l-2.4,-2.8zM133.62,635.54l2.4,2.8l-2.4,2.8l-2.4,-2.8zM135.82,632.94l2.4,2.8l-2.4,2.8l-2.4,-2.8zM138.01,630.07l2.4,2.8l-2.4,2.8l-2.4,-2.8zM140.21,626.93l2.4,2.8l-2.4,2.8l-2.4,-2.8zM142.40,623.52l2.4,2.8l-2.4,2.8l-2.4,-2.8zM144.60,619.86l2.4,2.8l-2.4,2.8l-2.4,-2.8zM146.80,615.96l2.4,2.8l-2.4,2.8l-2.4,-2.8zM148.99,611.85l2.4,2.8l-2.4,2.8l-2.4,-2.8zM151.19,607.54l2.4,2.8l-2.4,2.8l-2.4,-2.8zM153.38,603.06l2.4,2.8l-2.4,2.8l-2.4,-2.8zM155.58,598.43l2.4,2.8l-2.4,2.8l-2.4,-2.8zM157.78,593.69l2.4,2.8l-2.4,2.8l-2.4,-2.8zM159.97,588.85l2.4,2.8l-2.4,2.8l-2.4,-2.8zM162.17,583.96l2.4,2.8l-2.4,2.8l-2.4,-2.8zM164.36,579.03l2.4,2.8l-2.4,2.8l-2.4,-2.8zM166.56,574.10l2.4,2.8l-2.4,2.8l-2.4,-2.8zM168.76,569.20l2.4,2.8l-2.4,2.8l-2.4,-2.8zM170.95,564.34l2.4,2.8l-2.4,2.8l-2.4,-2.8zM173.15,559.56l2.4,2.8l-2.4,2.8l-2.4,-2.8zM175.34,554.87l2.4,2.8l-2.4,2.8l-2.4,-2.8zM177.54,550.29l2.4,2.8l-2.4,2.8l-2.4,-2.8zM179.74,545.84l2.4,2.8l-2.4,2.8l-2.4,-2.8zM181.93,541.54l2.4,2.8l-2.4,2.8l-2.4,-2.8zM184.13,537.40l2.4,2.8l-2.4,2.8l-2.4,-2.8zM186.32,533.43l2.4,2.8l-2.4,2.8l-2.4,-2.8zM188.52,529.63l2.4,2.8l-2.4,2.8l-2.4,-2.8zM190.72,526.01l2.4,2.8l-2.4,2.8l-2.4,-2.8zM192.91,522.58l2.4,2.8l-2.4,2.8l-2.4,-2.8zM195.11,519.33l2.4,2.8l-2.4,2.8l-2.4,-2.8zM197.30,516.28l2.4,2.8l-2.4,2.8l-2.4,-2.8zM199.50,513.41l2.4,2.8l-2.4,2.8l-2.4,-2.8zM201.70,510.72l2.4,2.8l-2.4,2.8l-2.4,-2.8zM203.89,508.21l2.4,2.8l-2.4,2.8l-2.4,-2.8zM206.09,505.88l2.4,2.8l-2.4,2.8l-2.4,-2.8zM208.28,503.71l2.4,2.8l-2.4,2.8l-2.4,-2.8zM210.48,501.71l2.4,2.8l-2.4,2.8l-2.4,-2.8zM212.68,499.86l2.4,2.8l-2.4,2.8l-2.4,-2.8zM214.87,498.16l2.4,2.8l-2.4,2.8l-2.4,-2.8zM217.07,496.59l2.4,2.8l-2.4,2.8l-2.4,-2.8zM219.26,495.16l2.4,2.8l-2.4,2.8l-2.4,-2.8zM221.46,493.86l2.4,2.8l-2.4,2.8l-2.4,-2.8zM223.66,492.66l2.4,2.8l-2.4,2.8l-2.4,-2.8zM225.85,491.58l2.4,2.8l-2.4,2.8l-2.4,-2.8zM228.05,490.60l2.4,2.8l-2.4,2.8l-2.4,-2.8zM230.24,489.71l2.4,2.8l-2.4,2.8l-2.4,-2.8zM232.44,488.91l2.4,2.8l-2.4,2.8l-2.4,-2.8zM234.64,488.18l2.4,2.8l-2.4,2.8l-2.4,-2.8zM236.83,487.53l2.4,2.8l-2.4,2.8l-2.4,-2.8zM239.03,486.94l2.4,2.8l-2.4,2.8l-2.4,-2.8zM241.22,486.42l2.4,2.8l-2.4,2.8l-2.4,-2.8zM243.42,485.95l2.4,2.8l-2.4,2.8l-2.4,-2.8zM245.62,485.53l2.4,2.8l-2.4,2.8l-2.4,-2.8zM247.81,485.16l2.4,2.8l-2.4,2.8l-2.4,-2.8zM250.01,484.83l2.4,2.8l-2.4,2.8l-2.4,-2.8zM252.20,484.53l2.4,2.8l-2.4,2.8l-2.4,-2.8zM254.40,484.27l2.4,2.8l-2.4,2.8l-2.4,-2.8z" fill="none" stroke="#00e000" stroke-width="0.75"/>
<path d="M34.80,652.30L35.35,652.30L35.90,652.30L36.45,652.30L37.00,652.30L37.54,652.30L38.09,652.30L38.64,652.30L39.19,652.30L39.74,652.30L40.29,652.30L40.84,652.30L41.39,652.30L41.94,652.30L42.49,652.30L43.03,652.30L43.58,652.30L44.13,652.30L44.68,652.30L45.23,652.30L45.78,652.30L46.33,652.30L46.88,652.30L47.43,652.30L47.98,652.30L48.52,652.30L49.07,652.30L49.62,652.30L50.17,652.30L50.72,652.30L51.27,652.30L51.82,652.30L52.37,652.30L52.92,652.30L53.47,652.30L54.02,652.30L54.56,652.30L55.11,652.30L55.66,652.30L56.21,652.30L56.76,652.30L57.31,652.30L57.86,652.30L58.41,652.30L58.96,652.30L59.50,652.30L60.05,652.30L60.60,652.30L61.15,652.30L61.70,652.21L62.25,652.17L62.80,652.14L63.35,652.08L63.90,652.02L64.45,651.94L65.00,651.85L65.54,651.74L66.09,651.60L66.64,651.45L67.19,651.26L67.74,651.05L68.29,650.81L68.84,650.53L69.39,650.22L69.94,649.86L70.48,649.47L71.03,649.03L71.58,648.55L72.13,648.01L72.68,647.43L73.23,646.79L73.78,646.10L74.33,645.35L74.88,644.55L75.43,643.68L75.97,642.76L76.52,641.78L77.07,640.73L77.62,639.63L78.17,638.46L78.72,637.23L79.27,635.94L79.82,634.59L80.37,633.18L80.92,631.71L81.47,630.19L82.01,628.60L82.56,626.97L83.11,625.28L83.66,623.54L84.21,621.75L84.76,619.91L85.31,618.03L85.86,616.10L86.41,614.14L86.95,612.14L87.50,610.11L88.05,608.04L88.60,605.94L89.15,603.82L89.70,601.68L90.25,599.51L90.80,597.33L91.35,595.13L91.90,592.92L92.45,590.70L92.99,588.48L93.54,586.25L94.09,584.02L94.64,581.79L95.19,579.56L95.74,577.34L96.29,575.13L96.84,572.93L97.39,570.74L97.94,568.57L98.48,566.41L99.03,564.28L99.58,562.16L100.13,560.06L100.68,557.99L101.23,555.95L101.78,553.93L102.33,551.94L102.88,549.98L103.42,548.05L103.97,546.15L104.52,544.29L105.07,542.45L105.62,540.65L106.17,538.89L106.72,537.16L107.27,535.47L107.82,533.81L108.37,532.18L108.92,530.60L109.46,529.05L110.01,527.54L110.56,526.06L111.11,524.62L111.66,523.22L112.21,521.86L112.76,520.53L113.31,519.23L113.86,517.98L114.41,516.75L114.95,515.57L115.50,514.41L116.05,513.30L116.60,512.21L117.15,511.16L117.70,510.14L118.25,509.16L118.80,508.20L119.35,507.28L119.90,506.39L120.44,505.52L120.99,504.69L121.54,503.88L122.09,503.11L122.64,502.36L123.19,501.63L123.74,500.94L124.29,500.26L124.84,499.62L125.39,498.99L125.93,498.39L126.48,497.81L127.03,497.26L127.58,496.72L128.13,496.21L128.68,495.72L129.23,495.24L129.78,494.79L130.33,494.35L130.88,493.93L131.42,493.53L131.97,493.15L132.52,492.78L133.07,492.42L133.62,492.08L134.17,491.76L134.72,491.45L135.27,491.15L135.82,490.87L136.37,490.59L136.91,490.33L137.46,490.08L138.01,489.85L138.56,489.62L139.11,489.40L139.66,489.19L140.21,489.00L140.76,488.81L141.31,488.63L141.86,488.46L142.40,488.29L142.95,488.14L143.50,487.99L144.05,487.85L144.60,487.71L145.15,487.58L145.70,487.46L146.25,487.34L146.80,487.23L147.34,487.13L147.89,487.03L148.44,486.93L148.99,486.84L149.54,486.75L150.09,486.67L150.64,486.59L151.19,486.52L151.74,486.45L152.29,486.38L152.84,486.32L153.38,486.26L153.93,486.20L154.48,486.15L155.03,486.10L155.58,486.05L156.13,486.00L156.68,485.96L157.23,485.92L157.78,485.88L158.32,485.84L158.87,485.80L159.42,485.77L159.97,485.74L160.52,485.71L161.07,485.68L161.62,485.66L162.17,485.63L162.72,485.61L163.27,485.58L163.81,485.56L164.36,485.54L164.91,485.52L165.46,485.50L166.01,485.49L166.56,485.47L167.11,485.45L167.66,485.44L168.21,485.43L168.76,485.42L169.31,485.40L169.85,485.39L170.40,485.38L170.95,485.37L171.50,485.36L172.05,485.35L172.60,485.34L173.15,485.34L173.70,485.33L174.25,485.32L174.80,485.32L175.34,485.31L175.89,485.30L176.44,485.29L176.99,485.29L177.54,485.20L178.09,485.20L178.64,485.20L179.19,485.20L179.74,485.20L180.29,485.20L180.83,485.20L181.38,485.20L181.93,485.20L182.48,485.20L183.03,485.20L183.58,485.20L184.13,485.20L184.68,485.20L185.23,485.20L185.78,485.20L186.32,485.20L186.87,485.20L187.42,485.20L187.97,485.20L188.52,485.20L189.07,485.20L189.62,485.20L190.17,485.20L190.72,485.20L191.27,485.20L191.81,485.20L192.36,485.20L192.91,485.20L193.46,485.20L194.01,485.20L194.56,485.20L195.11,485.20L195.66,485.20L196.21,485.20L196.75,485.20L197.30,485.20L197.85,485.20L198.40,485.20L198.95,485.20L199.50,485.20L200.05,485.20L200.60,485.20L201.15,485.20L201.70,485.20L202.25,485.20L202.79,485.20L203.34,485.20L203.89,485.20L204.44,485.20L204.99,485.20L205.54,485.20L206.09,485.20L206.64,485.20L207.19,485.20L207.74,485.20L208.28,485.20L208.83,485.20L209.38,485.20L209.93,485.20L210.48,485.20L211.03,485.20L211.58,485.20L212.13,485.20L212.68,485.20L213.23,485.20L213.77,485.20L214.32,485.20L214.87,485.20L215.42,485.20L215.97,485.20L216.52,485.20L217.07,485.20L217.62,485.20L218.17,485.20L218.72,485.20L219.26,485.20L219.81,485.20L220.36,485.20L220.91,485.20L221.46,485.20L222.01,485.20L222.56,485.20L223.11,485.20L223.66,485.20L224.21,485.20L224.75,485.20L225.30,485.20L225.85,485.20L226.40,485.20L226.95,485.20L227.50,485.20L228.05,485.20L228.60,485.20L229.15,485.20L229.69,485.20L230.24,485.20L230.79,485.20L231.34,485.20L231.89,485.20L232.44,485.20L232.99,485.20L233.54,485.20L234.09,485.20L234.64,485.20L235.19,485.20L235.73,485.20L236.28,485.20L236.83,485.20L237.38,485.20L237.93,485.20L238.48,485.20L239.03,485.20L239.58,485.20L240.13,485.20L240.68,485.20L241.22,485.20L241.77,485.20L242.32,485.20L242.87,485.20L243.42,485.20L243.97,485.20L244.52,485.20L245.07,485.20L245.62,485.20L246.17,485.20L246.71,485.20L247.26,485.20L247.81,485.20L248.36,485.20L248.91,485.20L249.46,485.20L250.01,485.20L250.56,485.20L251.11,485.20L251.66,485.20L252.20,485.20L252.75,485.20L253.30,485.20L253.85,485.20L254.40,485.20" fill="none" stroke="#333" stroke-width="0.7"/>
<path d="M34.80,652.30L35.35,652.30L35.90,652.30L36.45,652.30L37.00,652.30L37.54,652.30L38.09,652.30L38.64,652.30L39.19,652.30L39.74,652.30L40.29,652.30L40.84,652.30L41.39,652.30L41.94,652.30L42.49,652.30L43.03,652.30L43.58,652.30L44.13,652.30L44.68,652.30L45.23,652.30L45.78,652.30L46.33,652.30L46.88,652.30L47.43,652.30L47.98,652.30L48.52,652.30L49.07,652.30L49.62,652.30L50.17,652.30L50.72,652.30L51.27,652.30L51.82,652.30L52.37,652.30L52.92,652.30L53.47,652.30L54.02,652.30L54.56,652.30L55.11,652.30L55.66,652.30L56.21,652.30L56.76,652.30L57.31,652.30L57.86,652.30L58.41,652.30L58.96,652.30L59.50,652.30L60.05,652.30L60.60,652.30L61.15,652.30L61.70,652.30L62.25,652.30L62.80,652.30L63.35,652.30L63.90,652.30L64.45,652.30L65.00,652.30L65.54,652.30L66.09,652.30L66.64,652.30L67.19,652.30L67.74,652.30L68.29,652.30L68.84,652.30L69.39,652.30L69.94,652.30L70.48,652.30L71.03,652.30L71.58,652.30L72.13,652.30L72.68,652.30L73.23,652.30L73.78,652.30L74.33,652.30L74.88,652.30L75.43,652.30L75.97,652.30L76.52,652.30L77.07,652.30L77.62,652.30L78.17,652.30L78.72,652.30L79.27,652.30L79.82,652.30L80.37,652.30L80.92,652.30L81.47,652.30L82.01,652.30L82.56,652.30L83.11,652.30L83.66,652.30L84.21,652.22L84.76,652.18L85.31,652.15L85.86,652.10L86.41,652.05L86.95,651.99L87.50,651.91L88.05,651.82L88.60,651.72L89.15,651.60L89.70,651.47L90.25,651.31L90.80,651.14L91.35,650.95L91.90,650.73L92.45,650.49L92.99,650.23L93.54,649.94L94.09,649.62L94.64,649.28L95.19,648.91L95.74,648.51L96.29,648.08L96.84,647.62L97.39,647.12L97.94,646.60L98.48,646.04L99.03,645.44L99.58,644.82L100.13,644.16L100.68,643.46L101.23,642.73L101.78,641.97L102.33,641.17L102.88,640.34L103.42,639.47L103.97,638.57L104.52,637.64L105.07,636.67L105.62,635.67L106.17,634.64L106.72,633.57L107.27,632.48L107.82,631.35L108.37,630.20L108.92,629.01L109.46,627.80L110.01,626.56L110.56,625.29L111.11,623.99L111.66,622.68L112.21,621.33L112.76,619.97L113.31,618.58L113.86,617.18L114.41,615.75L114.95,614.30L115.50,612.84L116.05,611.36L116.60,609.87L117.15,608.36L117.70,606.84L118.25,605.31L118.80,603.76L119.35,602.21L119.90,600.65L120.44,599.08L120.99,597.50L121.54,595.92L122.09,594.33L122.64,592.74L123.19,591.15L123.74,589.56L124.29,587.96L124.84,586.37L125.39,584.78L125.93,583.19L126.48,581.60L127.03,580.02L127.58,578.44L128.13,576.87L128.68,575.31L129.23,573.75L129.78,572.20L130.33,570.66L130.88,569.12L131.42,567.60L131.97,566.09L132.52,564.59L133.07,563.10L133.62,561.62L134.17,560.16L134.72,558.71L135.27,557.27L135.82,555.85L136.37,554.44L136.91,553.05L137.46,551.67L138.01,550.30L138.56,548.96L139.11,547.63L139.66,546.31L140.21,545.02L140.76,543.74L141.31,542.47L141.86,541.23L142.40,540.00L142.95,538.79L143.50,537.59L144.05,536.42L144.60,535.26L145.15,534.12L145.70,533.00L146.25,531.89L146.80,530.81L147.34,529.74L147.89,528.69L148.44,527.66L148.99,526.65L149.54,525.65L150.09,524.67L150.64,523.71L151.19,522.77L151.74,521.84L152.29,520.94L152.84,520.05L153.38,519.17L153.93,518.32L154.48,517.48L155.03,516.66L155.58,515.85L156.13,515.06L156.68,514.29L157.23,513.53L157.78,512.79L158.32,512.07L158.87,511.36L159.42,510.66L159.97,509.99L160.52,509.32L161.07,508.67L161.62,508.04L162.17,507.42L162.72,506.81L163.27,506.22L163.81,505.64L164.36,505.08L164.91,504.53L165.46,503.99L166.01,503.46L166.56,502.95L167.11,502.45L167.66,501.96L168.21,501.48L168.76,501.02L169.31,500.57L169.85,500.12L170.40,499.69L170.95,499.27L171.50,498.87L172.05,498.47L172.60,498.08L173.15,497.70L173.70,497.33L174.25,496.97L174.80,496.62L175.34,496.28L175.89,495.95L176.44,495.63L176.99,495.32L177.54,495.01L178.09,494.71L178.64,494.43L179.19,494.14L179.74,493.87L180.29,493.61L180.83,493.35L181.38,493.10L181.93,492.85L182.48,492.62L183.03,492.39L183.58,492.16L184.13,491.94L184.68,491.73L185.23,491.53L185.78,491.33L186.32,491.13L186.87,490.95L187.42,490.76L187.97,490.59L188.52,490.42L189.07,490.25L189.62,490.09L190.17,489.93L190.72,489.78L191.27,489.63L191.81,489.49L192.36,489.35L192.91,489.21L193.46,489.08L194.01,488.95L194.56,488.83L195.11,488.71L195.66,488.60L196.21,488.48L196.75,488.38L197.30,488.27L197.85,488.17L198.40,488.07L198.95,487.97L199.50,487.88L200.05,487.79L200.60,487.71L201.15,487.62L201.70,487.54L202.25,487.46L202.79,487.38L203.34,487.31L203.89,487.24L204.44,487.17L204.99,487.10L205.54,487.04L206.09,486.97L206.64,486.91L207.19,486.86L207.74,486.80L208.28,486.74L208.83,486.69L209.38,486.64L209.93,486.59L210.48,486.54L211.03,486.49L211.58,486.45L212.13,486.41L212.68,486.36L213.23,486.32L213.77,486.28L214.32,486.25L214.87,486.21L215.42,486.17L215.97,486.14L216.52,486.11L217.07,486.07L217.62,486.04L218.17,486.01L218.72,485.98L219.26,485.96L219.81,485.93L220.36,485.90L220.91,485.88L221.46,485.85L222.01,485.83L222.56,485.81L223.11,485.79L223.66,485.77L224.21,485.75L224.75,485.73L225.30,485.71L225.85,485.69L226.40,485.67L226.95,485.65L227.50,485.64L228.05,485.62L228.60,485.61L229.15,485.59L229.69,485.58L230.24,485.56L230.79,485.55L231.34,485.54L231.89,485.52L232.44,485.51L232.99,485.50L233.54,485.49L234.09,485.48L234.64,485.47L235.19,485.46L235.73,485.45L236.28,485.44L236.83,485.43L237.38,485.43L237.93,485.42L238.48,485.41L239.03,485.40L239.58,485.39L240.13,485.39L240.68,485.38L241.22,485.37L241.77,485.36L242.32,485.36L242.87,485.36L243.42,485.35L243.97,485.35L244.52,485.34L245.07,485.34L245.62,485.33L246.17,485.33L246.71,485.32L247.26,485.32L247.81,485.31L248.36,485.31L248.91,485.30L249.46,485.30L250.01,485.29L250.56,485.29L251.11,485.29L251.66,485.20L252.20,485.20L252.75,485.20L253.30,485.20L253.85,485.20L254.40,485.20" fill="none" stroke="#333" stroke-width="0.7"/>
<path d="M34.80,652.30L35.35,652.30L35.90,652.30L36.45,652.30L37.00,652.30L37.54,652.30L38.09,652.30L38.64,652.30L39.19,652.30L39.74,652.30L40.29,652.30L40.84,652.30L41.39,652.30L41.94,652.30L42.49,652.30L43.03,652.30L43.58,652.30L44.13,652.30L44.68,652.30L45.23,652.30L45.78,652.30L46.33,652.30L46.88,652.30L47.43,652.30L47.98,652.30L48.52,652.30L49.07,652.30L49.62,652.30L50.17,652.30L50.72,652.30L51.27,652.30L51.82,652.30L52.37,652.30L52.92,652.30L53.47,652.30L54.02,652.30L54.56,652.30L55.11,652.30L55.66,652.30L56.21,652.30L56.76,652.30L57.31,652.30L57.86,652.30L58.41,652.30L58.96,652.30L59.50,652.30L60.05,652.30L60.60,652.30L61.15,652.30L61.70,652.30L62.25,652.30L62.80,652.30L63.35,652.30L63.90,652.30L64.45,652.30L65.00,652.30L65.54,652.30L66.09,652.30L66.64,652.30L67.19,652.30L67.74,652.30L68.29,652.30L68.84,652.30L69.39,652.30L69.94,652.30L70.48,652.30L71.03,652.30L71.58,652.30L72.13,652.30L72.68,652.30L73.23,652.30L73.78,652.30L74.33,652.30L74.88,652.30L75.43,652.30L75.97,652.30L76.52,652.30L77.07,652.30L77.62,652.30L78.17,652.30L78.72,652.30L79.27,652.30L79.82,652.30L80.37,652.30L80.92,652.30L81.47,652.30L82.01,652.30L82.56,652.30L83.11,652.30L83.66,652.30L84.21,652.30L84.76,652.30L85.31,652.30L85.86,652.30L86.41,652.30L86.95,652.30L87.50,652.30L88.05,652.30L88.60,652.30L89.15,652.30L89.70,652.30L90.25,652.30L90.80,652.30L91.35,652.30L91.90,652.30L92.45,652.30L92.99,652.30L93.54,652.30L94.09,652.30L94.64,652.30L95.19,652.30L95.74,652.30L96.29,652.30L96.84,652.30L97.39,652.30L97.94,652.30L98.48,652.21L99.03,652.20L99.58,652.18L100.13,652.17L100.68,652.15L101.23,652.13L101.78,652.11L102.33,652.09L102.88,652.06L103.42,652.04L103.97,652.00L104.52,651.97L105.07,651.93L105.62,651.89L106.17,651.85L106.72,651.80L107.27,651.75L107.82,651.69L108.37,651.63L108.92,651.56L109.46,651.49L110.01,651.41L110.56,651.33L111.11,651.24L111.66,651.14L112.21,651.04L112.76,650.93L113.31,650.81L113.86,650.69L114.41,650.56L114.95,650.42L115.50,650.27L116.05,650.11L116.60,649.94L117.15,649.76L117.70,649.57L118.25,649.37L118.80,649.16L119.35,648.94L119.90,648.71L120.44,648.47L120.99,648.21L121.54,647.94L122.09,647.66L122.64,647.37L123.19,647.06L123.74,646.74L124.29,646.40L124.84,646.05L125.39,645.69L125.93,645.31L126.48,644.92L127.03,644.51L127.58,644.08L128.13,643.64L128.68,643.19L129.23,642.71L129.78,642.23L130.33,641.72L130.88,641.20L131.42,640.66L131.97,640.11L132.52,639.53L133.07,638.94L133.62,638.34L134.17,637.71L134.72,637.07L135.27,636.42L135.82,635.74L136.37,635.05L136.91,634.34L137.46,633.61L138.01,632.87L138.56,632.11L139.11,631.33L139.66,630.54L140.21,629.73L140.76,628.90L141.31,628.05L141.86,627.19L142.40,626.32L142.95,625.43L143.50,624.52L144.05,623.60L144.60,622.66L145.15,621.71L145.70,620.74L146.25,619.76L146.80,618.76L147.34,617.75L147.89,616.73L148.44,615.70L148.99,614.65L149.54,613.59L150.09,612.52L150.64,611.43L151.19,610.34L151.74,609.23L152.29,608.12L152.84,606.99L153.38,605.86L153.93,604.71L154.48,603.56L155.03,602.40L155.58,601.23L156.13,600.05L156.68,598.87L157.23,597.68L157.78,596.49L158.32,595.28L158.87,594.08L159.42,592.87L159.97,591.65L160.52,590.43L161.07,589.21L161.62,587.99L162.17,586.76L162.72,585.53L163.27,584.30L163.81,583.07L164.36,581.83L164.91,580.60L165.46,579.37L166.01,578.14L166.56,576.90L167.11,575.67L167.66,574.45L168.21,573.22L168.76,572.00L169.31,570.78L169.85,569.56L170.40,568.35L170.95,567.14L171.50,565.94L172.05,564.74L172.60,563.55L173.15,562.36L173.70,561.18L174.25,560.00L174.80,558.83L175.34,557.67L175.89,556.51L176.44,555.36L176.99,554.22L177.54,553.09L178.09,551.97L178.64,550.85L179.19,549.74L179.74,548.64L180.29,547.55L180.83,546.47L181.38,545.40L181.93,544.34L182.48,543.29L183.03,542.25L183.58,541.22L184.13,540.20L184.68,539.19L185.23,538.19L185.78,537.20L186.32,536.23L186.87,535.26L187.42,534.30L187.97,533.36L188.52,532.43L189.07,531.51L189.62,530.60L190.17,529.70L190.72,528.81L191.27,527.93L191.81,527.07L192.36,526.22L192.91,525.38L193.46,524.55L194.01,523.73L194.56,522.93L195.11,522.13L195.66,521.35L196.21,520.58L196.75,519.82L197.30,519.08L197.85,518.34L198.40,517.62L198.95,516.91L199.50,516.21L200.05,515.52L200.60,514.84L201.15,514.17L201.70,513.52L202.25,512.88L202.79,512.24L203.34,511.62L203.89,511.01L204.44,510.41L204.99,509.82L205.54,509.24L206.09,508.68L206.64,508.12L207.19,507.57L207.74,507.04L208.28,506.51L208.83,505.99L209.38,505.49L209.93,504.99L210.48,504.51L211.03,504.03L211.58,503.56L212.13,503.11L212.68,502.66L213.23,502.22L213.77,501.79L214.32,501.37L214.87,500.96L215.42,500.55L215.97,500.16L216.52,499.77L217.07,499.39L217.62,499.02L218.17,498.66L218.72,498.31L219.26,497.96L219.81,497.62L220.36,497.29L220.91,496.97L221.46,496.66L222.01,496.35L222.56,496.05L223.11,495.75L223.66,495.46L224.21,495.18L224.75,494.91L225.30,494.64L225.85,494.38L226.40,494.13L226.95,493.88L227.50,493.63L228.05,493.40L228.60,493.17L229.15,492.94L229.69,492.72L230.24,492.51L230.79,492.30L231.34,492.10L231.89,491.90L232.44,491.71L232.99,491.52L233.54,491.33L234.09,491.15L234.64,490.98L235.19,490.81L235.73,490.65L236.28,490.49L236.83,490.33L237.38,490.18L237.93,490.03L238.48,489.88L239.03,489.74L239.58,489.61L240.13,489.47L240.68,489.35L241.22,489.22L241.77,489.10L242.32,488.98L242.87,488.86L243.42,488.75L243.97,488.64L244.52,488.53L245.07,488.43L245.62,488.33L246.17,488.23L246.71,488.14L247.26,488.05L247.81,487.96L248.36,487.87L248.91,487.79L249.46,487.70L250.01,487.63L250.56,487.55L251.11,487.47L251.66,487.40L252.20,487.33L252.75,487.26L253.30,487.20L253.85,487.13L254.40,487.07" fill="none" stroke="#333" stroke-width="0.7"/>
<text x="34.80" y="665.30" font-family='"Liberation Sans", sans-serif' font-size="9.3" text-anchor="middle" font-weight="normal" font-style="normal" fill="#262626" >0</text>
<text x="89.70" y="665.30" font-family='"Liberation Sans", sans-serif' font-size="9.3" text-anchor="middle" font-weight="normal" font-style="normal" fill="#262626" >50</text>
<text x="144.60" y="665.30" font-family='"Liberation Sans", sans-serif' font-size="9.3" text-anchor="middle" font-weight="normal" font-style="normal" fill="#262626" >100</text>
<text x="199.50" y="665.30" font-family='"Liberation Sans", sans-serif' font-size="9.3" text-anchor="middle" font-weight="normal" font-style="normal" fill="#262626" >150</text>
<text x="254.40" y="665.30" font-family='"Liberation Sans", sans-serif' font-size="9.3" text-anchor="middle" font-weight="normal" font-style="normal" fill="#262626" >200</text>
<text x="31.50" y="655.60" font-family='"Liberation Sans", sans-serif' font-size="9.3" text-anchor="end" font-weight="normal" font-style="normal" fill="#262626" >0</text>
<text x="31.50" y="622.18" font-family='"Liberation Sans", sans-serif' font-size="9.3" text-anchor="end" font-weight="normal" font-style="normal" fill="#262626" >0.2</text>
<text x="31.50" y="588.76" font-family='"Liberation Sans", sans-serif' font-size="9.3" text-anchor="end" font-weight="normal" font-style="normal" fill="#262626" >0.4</text>
<text x="31.50" y="555.34" font-family='"Liberation Sans", sans-serif' font-size="9.3" text-anchor="end" font-weight="normal" font-style="normal" fill="#262626" >0.6</text>
<text x="31.50" y="521.92" font-family='"Liberation Sans", sans-serif' font-size="9.3" text-anchor="end" font-weight="normal" font-style="normal" fill="#262626" >0.8</text>
<text x="31.50" y="488.50" font-family='"Liberation Sans", sans-serif' font-size="9.3" text-anchor="end" font-weight="normal" font-style="normal" fill="#262626" >1</text>
<rect x="166.10" y="598.80" width="82.30" height="47.60" fill="#fff" stroke="#9a9a9a" stroke-width="0.9"/>
<circle cx="178.40" cy="605.30" r="2.45" fill="none" stroke="#ff0000" stroke-width="0.75"/>
<rect x="176.10" y="614.30" width="4.6" height="4.6" fill="none" stroke="#5050ff" stroke-width="0.55"/>
<path d="M178.40,625.10l2.4,2.8l-2.4,2.8l-2.4,-2.8z" fill="none" stroke="#00e000" stroke-width="0.75"/>
<path d="M168.50,639.80H188.00" stroke="#333" stroke-width="0.7"/>
<text x="190.10" y="608.70" font-family='"Liberation Serif", serif' font-size="10" fill="#000" stroke="#000" stroke-width="0.15">(sim.)<tspan x="219.10" font-style="italic">L</tspan><tspan x="226.50">=</tspan><tspan x="234.70" font-size="10.8">16</tspan></text>
<text x="190.10" y="620.00" font-family='"Liberation Serif", serif' font-size="10" fill="#000" stroke="#000" stroke-width="0.15">(sim.)<tspan x="219.10" font-style="italic">L</tspan><tspan x="226.50">=</tspan><tspan x="234.70" font-size="10.8">20</tspan></text>
<text x="190.10" y="631.30" font-family='"Liberation Serif", serif' font-size="10" fill="#000" stroke="#000" stroke-width="0.15">(sim.)<tspan x="219.10" font-style="italic">L</tspan><tspan x="226.50">=</tspan><tspan x="234.70" font-size="10.8">24</tspan></text>
<text x="190.10" y="643.20" font-family='"Liberation Serif", serif' font-size="10" fill="#000" stroke="#000" stroke-width="0.15">Analytical</text>
<text x="144.60" y="678.50" font-family='"Liberation Sans", sans-serif' font-size="10.3" text-anchor="middle" font-weight="normal" font-style="normal" fill="#262626" >Input (x)</text>
<text x="13.60" y="568.75" font-family='"Liberation Sans", sans-serif' font-size="10.3" text-anchor="middle" font-weight="normal" font-style="normal" fill="#262626" transform="rotate(-90 13.6 568.75)">Cumulative Distribution Function (CDF)</text>
<text x="144.60" y="480.90" font-family='"Liberation Sans", sans-serif' font-size="10.25" text-anchor="middle" font-weight="bold" font-style="normal" fill="#000" >Rician Fading Enviroment</text>
<text x="126.00" y="698.90" font-family='"Liberation Serif", serif' font-size="14.5" text-anchor="middle" fill="#000">(<tspan font-weight="bold">e</tspan>)</text>
<rect x="321.60" y="485.00" width="219.20" height="167.70" fill="#fff"/>
<path d="M321.60,485.00H540.80V652.70H321.60ZM321.60,652.70v-2.2M321.60,485.00v2.2M365.44,652.70v-2.2M365.44,485.00v2.2M409.28,652.70v-2.2M409.28,485.00v2.2M453.12,652.70v-2.2M453.12,485.00v2.2M496.96,652.70v-2.2M496.96,485.00v2.2M540.80,652.70v-2.2M540.80,485.00v2.2M321.60,652.70h2.2M540.80,652.70h-2.2M321.60,596.80h2.2M540.80,596.80h-2.2M321.60,540.90h2.2M540.80,540.90h-2.2M321.60,485.00h2.2M540.80,485.00h-2.2" fill="none" stroke="#9a9a9a" stroke-width="0.9"/>
<path d="M321.60,652.70V569.86H330.37V652.70M330.37,652.70V583.50H339.14V652.70M339.14,652.70V591.21H347.90V652.70M347.90,652.70V602.28H356.67V652.70M356.67,652.70V607.53H365.44V652.70M365.44,652.70V615.58H374.21V652.70M374.21,652.70V620.28H382.98V652.70M382.98,652.70V626.20H391.74V652.70M391.74,652.70V631.35H400.51V652.70M400.51,652.70V634.25H409.28V652.70M409.28,652.70V637.05H418.05V652.70M418.05,652.70V638.50H426.82V652.70M426.82,652.70V641.30H435.58V652.70M435.58,652.70V642.75H444.35V652.70M444.35,652.70V644.54H453.12V652.70M453.12,652.70V645.88H461.89V652.70M461.89,652.70V647.78H470.66V652.70M470.66,652.70V647.45H479.42V652.70M479.42,652.70V648.90H488.19V652.70M488.19,652.70V649.46H496.96V652.70M496.96,652.70V649.91H505.73V652.70M505.73,652.70V650.58H514.50V652.70M514.50,652.70V651.13H523.26V652.70M523.26,652.70V651.47H532.03V652.70M532.03,652.70V650.91H540.80V652.70" fill="#63a6d6" stroke="#3a5f78" stroke-width="0.7"/>
<path d="M321.60,561.86L322.70,563.69L323.79,565.48L324.89,567.23L325.98,568.95L327.08,570.64L328.18,572.29L329.27,573.90L330.37,575.49L331.46,577.04L332.56,578.56L333.66,580.05L334.75,581.51L335.85,582.94L336.94,584.35L338.04,585.72L339.14,587.07L340.23,588.39L341.33,589.68L342.42,590.95L343.52,592.19L344.62,593.41L345.71,594.60L346.81,595.77L347.90,596.91L349.00,598.03L350.10,599.13L351.19,600.21L352.29,601.26L353.38,602.30L354.48,603.31L355.58,604.31L356.67,605.28L357.77,606.23L358.86,607.17L359.96,608.08L361.06,608.98L362.15,609.86L363.25,610.72L364.34,611.56L365.44,612.39L366.54,613.20L367.63,614.00L368.73,614.77L369.82,615.54L370.92,616.28L372.02,617.02L373.11,617.73L374.21,618.44L375.30,619.13L376.40,619.80L377.50,620.46L378.59,621.11L379.69,621.75L380.78,622.37L381.88,622.98L382.98,623.58L384.07,624.16L385.17,624.74L386.26,625.30L387.36,625.85L388.46,626.39L389.55,626.92L390.65,627.44L391.74,627.94L392.84,628.44L393.94,628.93L395.03,629.41L396.13,629.88L397.22,630.33L398.32,630.78L399.42,631.23L400.51,631.66L401.61,632.08L402.70,632.49L403.80,632.90L404.90,633.30L405.99,633.69L407.09,634.07L408.18,634.45L409.28,634.81L410.38,635.17L411.47,635.53L412.57,635.87L413.66,636.21L414.76,636.54L415.86,636.87L416.95,637.18L418.05,637.50L419.14,637.80L420.24,638.10L421.34,638.39L422.43,638.68L423.53,638.96L424.62,639.24L425.72,639.51L426.82,639.78L427.91,640.04L429.01,640.29L430.10,640.54L431.20,640.78L432.30,641.02L433.39,641.26L434.49,641.49L435.58,641.71L436.68,641.94L437.78,642.15L438.87,642.36L439.97,642.57L441.06,642.78L442.16,642.98L443.26,643.17L444.35,643.36L445.45,643.55L446.54,643.73L447.64,643.91L448.74,644.09L449.83,644.26L450.93,644.43L452.02,644.60L453.12,644.76L454.22,644.92L455.31,645.08L456.41,645.23L457.50,645.38L458.60,645.53L459.70,645.67L460.79,645.81L461.89,645.95L462.98,646.09L464.08,646.22L465.18,646.35L466.27,646.48L467.37,646.60L468.46,646.73L469.56,646.85L470.66,646.97L471.75,647.08L472.85,647.19L473.94,647.30L475.04,647.41L476.14,647.52L477.23,647.62L478.33,647.73L479.42,647.83L480.52,647.92L481.62,648.02L482.71,648.11L483.81,648.21L484.90,648.30L486.00,648.38L487.10,648.47L488.19,648.56L489.29,648.64L490.38,648.72L491.48,648.80L492.58,648.88L493.67,648.96L494.77,649.03L495.86,649.11L496.96,649.18L498.06,649.25L499.15,649.32L500.25,649.39L501.34,649.45L502.44,649.52L503.54,649.58L504.63,649.64L505.73,649.71L506.82,649.77L507.92,649.83L509.02,649.88L510.11,649.94L511.21,650.00L512.30,650.05L513.40,650.10L514.50,650.16L515.59,650.21L516.69,650.26L517.78,650.31L518.88,650.35L519.98,650.40L521.07,650.45L522.17,650.49L523.26,650.54L524.36,650.58L525.46,650.62L526.55,650.66L527.65,650.71L528.74,650.75L529.84,650.79L530.94,650.82L532.03,650.86L533.13,650.90L534.22,650.93L535.32,650.97L536.42,651.00L537.51,651.04L538.61,651.07L539.70,651.10L540.80,651.14" fill="none" stroke="#ff3030" stroke-width="0.7"/>
<text x="321.60" y="665.70" font-family='"Liberation Sans", sans-serif' font-size="9.3" text-anchor="middle" font-weight="normal" font-style="normal" fill="#262626" >0</text>
<text x="365.44" y="665.70" font-family='"Liberation Sans", sans-serif' font-size="9.3" text-anchor="middle" font-weight="normal" font-style="normal" fill="#262626" >10</text>
<text x="409.28" y="665.70" font-family='"Liberation Sans", sans-serif' font-size="9.3" text-anchor="middle" font-weight="normal" font-style="normal" fill="#262626" >20</text>
<text x="453.12" y="665.70" font-family='"Liberation Sans", sans-serif' font-size="9.3" text-anchor="middle" font-weight="normal" font-style="normal" fill="#262626" >30</text>
<text x="496.96" y="665.70" font-family='"Liberation Sans", sans-serif' font-size="9.3" text-anchor="middle" font-weight="normal" font-style="normal" fill="#262626" >40</text>
<text x="540.80" y="665.70" font-family='"Liberation Sans", sans-serif' font-size="9.3" text-anchor="middle" font-weight="normal" font-style="normal" fill="#262626" >50</text>
<text x="318.30" y="656.00" font-family='"Liberation Sans", sans-serif' font-size="9.3" text-anchor="end" font-weight="normal" font-style="normal" fill="#262626" >0</text>
<text x="318.30" y="600.10" font-family='"Liberation Sans", sans-serif' font-size="9.3" text-anchor="end" font-weight="normal" font-style="normal" fill="#262626" >0.05</text>
<text x="318.30" y="544.20" font-family='"Liberation Sans", sans-serif' font-size="9.3" text-anchor="end" font-weight="normal" font-style="normal" fill="#262626" >0.1</text>
<text x="318.30" y="488.30" font-family='"Liberation Sans", sans-serif' font-size="9.3" text-anchor="end" font-weight="normal" font-style="normal" fill="#262626" >0.15</text>
<rect x="453.00" y="490.20" width="82.50" height="24.80" fill="#fff" stroke="#9a9a9a" stroke-width="0.9"/>
<rect x="455.3" y="492.30" width="20.4" height="8.2" fill="#63a6d6" stroke="#3a5f78" stroke-width="0.7"/>
<path d="M455.3,507.90H475.3" stroke="#ff3030" stroke-width="0.7"/>
<text x="477.20" y="499.80" font-family='"Liberation Serif", serif' font-size="10" fill="#000" stroke="#000" stroke-width="0.15">(sim.)<tspan x="506.20" font-style="italic">L</tspan><tspan x="513.60">=</tspan><tspan x="521.80" font-size="10.8">24</tspan></text>
<text x="477.20" y="511.30" font-family='"Liberation Serif", serif' font-size="10" fill="#000" stroke="#000" stroke-width="0.15">Analytical</text>
<text x="431.20" y="678.90" font-family='"Liberation Sans", sans-serif' font-size="10.3" text-anchor="middle" font-weight="normal" font-style="normal" fill="#262626" >Input (x)</text>
<text x="297.00" y="568.85" font-family='"Liberation Sans", sans-serif' font-size="10.3" text-anchor="middle" font-weight="normal" font-style="normal" fill="#262626" transform="rotate(-90 297 568.85)">Probability Density Function (PDF)</text>
<text x="431.20" y="482.10" font-family='"Liberation Sans", sans-serif' font-size="10.25" text-anchor="middle" font-weight="bold" font-style="normal" fill="#000" >Rician Fading Enviroment</text>
<text x="439.60" y="699.30" font-family='"Liberation Serif", serif' font-size="14.5" text-anchor="middle" fill="#000">(<tspan font-weight="bold">f</tspan>)</text>
</svg>
</body></html>
